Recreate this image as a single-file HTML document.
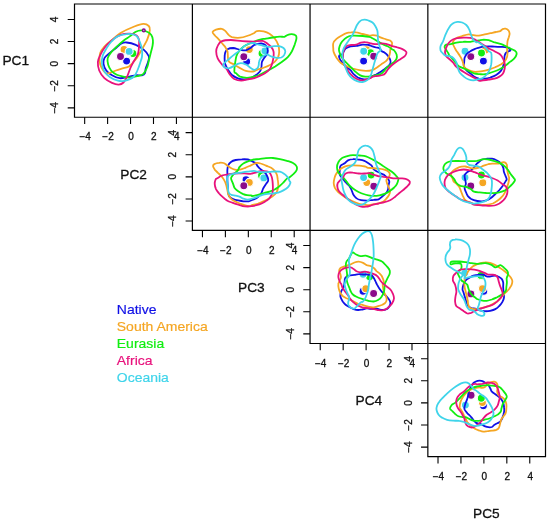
<!DOCTYPE html>
<html lang="en"><head><meta charset="utf-8"><title>PCA niche overlap</title>
<style>
html,body{margin:0;padding:0;background:#fff}
svg{display:block;font-family:"Liberation Sans",Arial,Helvetica,sans-serif}
.f{fill:none;stroke:#000;stroke-width:1.2;stroke-linecap:square}
.t{stroke:#000;stroke-width:1.1;fill:none}
.c{fill:none;stroke-width:1.8;stroke-linejoin:round}
.d{stroke:#fff;stroke-width:1.1}
.a{font-size:10px;fill:#111;stroke:#111;stroke-width:.3;text-anchor:middle}
.l{font-size:13.7px;fill:#111;stroke:#111;stroke-width:.3}
.g{font-size:14px;stroke-width:.2}
</style></head><body>
<svg width="550" height="524" viewBox="0 0 550 524">
<rect width="550" height="524" fill="#fff"/>
<g><!-- panel PC1 vs PC2 -->
<circle class="d" cx="126.6" cy="61.1" r="4.0" fill="#1010e6"/>
<circle class="d" cx="124.0" cy="49.4" r="4.0" fill="#f5a623"/>
<circle class="d" cx="132.9" cy="53.5" r="4.0" fill="#10ee10"/>
<circle class="d" cx="120.5" cy="56.5" r="4.0" fill="#8b0a8b"/>
<circle class="d" cx="129.2" cy="51.4" r="4.0" fill="#3fd4ea"/>
<path class="c" stroke="#1010e6" d="M126.6 42.5C129.0 42.7 133.0 43.6 135.8 44.8C138.6 45.9 141.2 47.5 143.4 49.4C145.6 51.3 148.0 54.1 148.8 56.2C149.6 58.4 148.5 60.3 148.0 62.3C147.5 64.3 146.2 66.6 145.7 68.4C145.2 70.2 145.6 71.8 145.0 73.0C144.4 74.2 143.4 74.9 141.9 75.3C140.4 75.7 138.1 75.0 135.8 75.3C133.5 75.5 130.9 76.3 128.2 76.8C125.5 77.3 122.4 78.5 119.7 78.2C117.0 78.0 114.2 76.6 112.0 75.3C109.8 74.0 107.7 72.4 106.3 70.5C104.9 68.6 103.8 66.0 103.5 63.9C103.2 61.8 103.5 59.9 104.4 58.1C105.4 56.4 107.1 55.2 109.2 53.4C111.3 51.6 114.8 48.9 116.8 47.2C118.8 45.5 119.9 44.2 121.5 43.4C123.1 42.6 124.2 42.3 126.6 42.5Z"/>
<path class="c" stroke="#f5a623" d="M143.4 23.9C145.8 23.8 147.7 24.9 148.8 26.0C149.9 27.1 150.1 28.1 149.8 30.3C149.6 32.5 148.6 36.2 147.3 39.4C146.0 42.6 143.8 46.1 141.9 49.4C140.0 52.7 137.9 56.5 135.8 59.3C133.7 62.1 131.2 64.7 129.2 66.2C127.1 67.7 125.7 67.4 123.5 68.1C121.3 68.8 118.5 69.6 115.9 70.5C113.4 71.4 110.0 73.0 108.2 73.4C106.5 73.8 106.5 73.9 105.4 72.9C104.3 72.0 102.5 69.7 101.5 67.7C100.5 65.7 99.8 63.4 99.6 61.0C99.4 58.6 99.3 55.8 100.1 53.4C100.9 51.0 102.4 48.9 104.4 46.7C106.4 44.5 109.3 42.3 112.0 40.0C114.7 37.7 116.8 35.2 120.5 33.0C124.2 30.8 130.5 28.0 134.3 26.5C138.1 25.0 141.0 24.0 143.4 23.9Z"/>
<path class="c" stroke="#10ee10" d="M141.2 30.4C143.1 30.4 145.4 31.0 147.1 31.8C148.8 32.6 150.3 33.6 151.3 35.0C152.3 36.4 152.7 38.2 152.9 40.0C153.1 41.8 153.0 43.0 152.6 45.5C152.2 48.0 150.9 52.2 150.3 54.7C149.7 57.2 149.3 58.8 148.8 60.8C148.3 62.8 148.2 64.7 147.3 66.9C146.4 69.1 145.1 72.3 143.4 73.8C141.7 75.3 139.6 75.5 137.3 76.1C135.0 76.7 132.0 77.5 129.7 77.6C127.4 77.7 125.7 77.2 123.5 76.7C121.3 76.2 118.9 75.8 116.8 74.8C114.7 73.8 112.5 72.2 111.1 70.5C109.7 68.8 108.8 66.9 108.2 64.8C107.6 62.7 107.2 60.2 107.7 58.1C108.2 56.0 109.6 54.3 111.1 52.4C112.6 50.5 114.6 48.8 116.8 46.7C119.0 44.6 122.2 41.7 124.4 40.0C126.6 38.3 127.8 37.8 129.7 36.4C131.6 35.0 133.9 32.8 135.8 31.8C137.7 30.8 139.3 30.4 141.2 30.4Z"/>
<path class="c" stroke="#e8127c" d="M112.9 39.4C115.4 37.4 117.7 35.8 120.5 34.8C123.3 33.8 127.0 33.5 129.7 33.6C132.4 33.7 135.1 34.6 136.6 35.6C138.1 36.6 138.5 38.0 138.9 39.4C139.3 40.8 139.2 41.9 139.1 44.2C139.0 46.6 139.0 50.6 138.1 53.5C137.2 56.4 134.8 59.4 133.5 61.8C132.2 64.2 131.4 65.6 130.4 68.0C129.4 70.4 128.4 73.8 127.3 76.2C126.1 78.6 124.9 81.1 123.5 82.5C122.1 83.9 120.6 84.5 118.7 84.6C116.8 84.7 114.4 84.0 112.0 82.9C109.6 81.8 106.5 80.3 104.4 78.2C102.3 76.1 100.3 73.2 99.2 70.5C98.1 67.8 97.7 64.6 97.9 61.9C98.1 59.2 99.3 56.9 100.6 54.3C101.9 51.7 103.5 49.0 105.5 46.5C107.5 44.0 110.4 41.4 112.9 39.4Z"/>
<path class="c" stroke="#3fd4ea" d="M117.5 36.4C120.0 35.2 123.9 34.4 126.6 34.1C129.3 33.8 131.7 34.0 133.5 34.5C135.3 35.0 136.2 35.5 137.3 36.8C138.4 38.1 139.2 40.1 140.0 42.2C140.8 44.3 141.7 47.0 142.0 49.4C142.3 51.8 142.3 54.4 142.0 56.6C141.7 58.8 140.9 60.6 140.2 62.8C139.5 65.0 138.7 67.6 137.6 70.0C136.5 72.4 135.7 75.2 133.5 77.0C131.3 78.8 127.0 80.2 124.4 80.8C121.8 81.4 120.2 81.2 117.8 80.6C115.4 80.0 112.3 78.7 110.1 77.2C107.9 75.7 105.8 73.7 104.4 71.5C103.1 69.3 102.3 66.5 102.0 63.9C101.7 61.4 101.8 58.8 102.5 56.2C103.2 53.7 104.8 51.1 106.3 48.6C107.8 46.1 109.6 43.5 111.5 41.5C113.4 39.5 115.0 37.6 117.5 36.4Z"/>
<circle cx="143.8" cy="30.4" r="1.3" fill="#d9d9d9" stroke="#8b0a8b" stroke-width="1.5"/>
</g>
<g><!-- panel PC1 vs PC3 -->
<circle class="d" cx="246.7" cy="61.6" r="4.0" fill="#1010e6"/>
<circle class="d" cx="249.3" cy="49.6" r="4.0" fill="#f5a623"/>
<circle class="d" cx="262.0" cy="53.5" r="4.0" fill="#10ee10"/>
<circle class="d" cx="243.8" cy="56.7" r="4.0" fill="#8b0a8b"/>
<circle class="d" cx="264.9" cy="50.9" r="4.0" fill="#3fd4ea"/>
<path class="c" stroke="#1010e6" d="M225.2 52.6C225.7 51.1 226.1 50.0 227.5 49.2C228.8 48.4 231.1 48.0 233.2 48.0C235.3 48.1 238.0 49.4 240.1 49.8C242.2 50.1 244.1 50.6 245.8 50.3C247.5 50.0 249.0 48.9 250.4 48.0C251.7 47.2 252.7 45.9 253.8 45.2C254.9 44.5 255.6 44.3 256.9 44.0C258.1 43.8 260.0 43.3 261.5 43.5C262.9 43.7 264.4 44.2 265.5 45.2C266.5 46.1 267.5 47.8 267.7 49.2C268.0 50.6 267.7 52.3 267.2 53.8C266.6 55.2 265.2 56.4 264.3 57.8C263.5 59.1 262.5 60.4 262.0 61.8C261.5 63.2 261.7 64.8 261.5 66.4C261.2 67.9 261.1 69.6 260.3 70.9C259.5 72.3 258.3 73.2 256.9 74.4C255.4 75.5 253.5 77.0 251.5 77.8C249.5 78.7 246.9 79.4 244.6 79.5C242.4 79.6 239.9 79.2 237.8 78.4C235.7 77.6 233.7 76.4 232.0 75.0C230.4 73.5 229.2 71.6 228.0 69.8C226.9 68.0 225.7 66.0 225.2 64.1C224.6 62.2 224.6 60.3 224.6 58.4C224.6 56.4 224.7 54.2 225.2 52.6Z"/>
<path class="c" stroke="#f5a623" d="M212.6 32.0C212.8 31.1 214.5 30.3 216.0 29.7C217.5 29.2 220.2 28.6 221.7 28.8C223.3 29.0 224.0 29.9 225.2 30.9C226.3 31.9 227.5 33.8 228.6 34.9C229.8 35.9 230.1 36.7 232.0 37.2C234.0 37.6 237.6 37.9 240.1 37.7C242.5 37.5 244.6 36.8 246.9 36.0C249.2 35.3 252.1 34.0 253.8 33.2C255.5 32.3 255.2 31.4 256.9 31.1C258.5 30.8 261.6 31.0 263.7 31.4C265.8 31.9 267.7 32.6 269.5 33.7C271.3 34.9 273.2 36.5 274.6 38.3C276.0 40.1 277.3 42.4 278.1 44.6C278.8 46.8 279.2 49.4 279.2 51.5C279.2 53.6 278.8 55.5 278.1 57.2C277.3 58.9 276.0 60.5 274.6 61.8C273.2 63.1 271.5 64.2 269.5 65.2C267.5 66.3 264.7 67.3 262.6 68.1C260.5 68.8 258.5 69.2 256.9 69.8C255.2 70.4 254.5 71.3 252.7 71.5C250.8 71.7 247.9 71.5 245.8 70.9C243.7 70.4 242.0 69.1 240.1 68.1C238.2 67.0 236.1 65.7 234.3 64.6C232.5 63.6 230.2 62.8 229.2 61.8C228.1 60.7 228.3 60.1 228.0 58.4C227.8 56.6 227.9 53.4 227.5 51.5C227.0 49.6 226.2 48.4 225.2 46.9C224.1 45.4 222.3 43.7 221.2 42.3C220.0 41.0 219.4 40.0 218.3 38.9C217.3 37.7 215.8 36.6 214.9 35.5C213.9 34.3 212.4 33.0 212.6 32.0Z"/>
<path class="c" stroke="#10ee10" d="M234.4 71.8C234.2 70.1 234.7 65.8 235.1 63.1C235.5 60.4 235.8 57.9 236.5 55.8C237.3 53.8 238.2 52.3 239.5 50.7C240.7 49.2 242.1 47.6 243.8 46.4C245.5 45.2 247.8 44.3 249.6 43.5C251.5 42.6 252.7 42.0 254.7 41.3C256.8 40.5 260.3 39.5 262.0 39.1C263.7 38.7 263.1 39.1 264.9 38.9C266.7 38.6 270.4 37.9 272.9 37.5C275.4 37.1 277.9 36.7 279.8 36.6C281.7 36.5 283.0 37.1 284.4 36.8C285.7 36.5 286.5 35.3 287.8 34.9C289.0 34.4 290.5 34.0 291.8 34.1C293.1 34.2 295.0 34.6 295.8 35.5C296.6 36.3 296.6 37.4 296.4 38.9C296.2 40.4 295.4 42.5 294.7 44.6C293.9 46.7 292.9 49.4 291.8 51.5C290.6 53.6 289.4 55.5 287.8 57.2C286.2 58.9 284.2 60.3 282.1 61.8C280.0 63.3 277.7 64.8 275.2 66.4C272.7 67.9 269.8 69.5 267.2 70.9C264.5 72.4 261.5 74.0 259.2 75.0C256.9 75.9 255.5 76.2 253.4 76.7C251.4 77.1 249.2 77.8 246.9 77.8C244.7 77.8 241.9 77.4 240.1 76.7C238.2 75.9 237.0 74.0 236.1 73.2C235.1 72.4 234.5 73.5 234.4 71.8Z"/>
<path class="c" stroke="#e8127c" d="M221.7 41.2C223.9 40.2 227.5 40.0 230.9 40.0C234.3 40.0 238.5 40.9 242.4 41.2C246.2 41.5 251.4 41.7 253.8 41.7C256.2 41.7 255.4 41.3 256.9 41.2C258.3 41.0 260.9 40.6 262.6 40.9C264.3 41.3 265.7 42.5 267.2 43.5C268.6 44.5 270.1 45.6 271.2 46.9C272.2 48.2 273.1 49.8 273.5 51.5C273.9 53.2 273.7 55.3 273.5 57.2C273.3 59.1 272.9 61.0 272.3 62.9C271.8 64.8 271.3 66.9 270.0 68.7C268.8 70.4 266.7 72.0 264.9 73.2C263.1 74.5 261.1 75.2 259.2 76.1C257.3 77.0 255.1 77.9 253.4 78.4C251.8 78.9 251.3 78.6 249.2 79.0C247.2 79.3 243.7 80.7 241.2 80.7C238.7 80.7 236.2 80.0 234.3 79.0C232.4 77.9 231.1 76.1 229.8 74.4C228.4 72.7 227.7 70.4 226.3 68.7C225.0 66.9 223.2 65.8 221.7 64.1C220.3 62.4 218.6 60.5 217.7 58.4C216.8 56.3 216.2 53.6 216.2 51.5C216.2 49.4 216.8 47.5 217.7 45.8C218.6 44.0 219.5 42.1 221.7 41.2Z"/>
<path class="c" stroke="#3fd4ea" d="M223.1 65.3C223.0 64.5 223.2 64.2 224.2 63.1C225.2 62.0 227.7 60.1 229.3 58.7C230.8 57.4 231.9 56.4 233.6 55.1C235.3 53.8 237.8 52.2 239.5 50.7C241.2 49.3 242.1 47.6 243.8 46.4C245.5 45.2 247.8 44.0 249.6 43.5C251.5 42.9 253.7 43.0 254.7 43.1C255.8 43.2 254.5 43.6 255.8 44.0C257.1 44.4 260.3 45.0 262.4 45.5C264.4 45.9 266.2 46.8 268.2 46.9C270.1 47.0 272.2 46.3 274.0 46.2C275.8 46.1 277.5 45.9 279.1 46.2C280.7 46.5 282.4 47.2 283.5 48.0C284.5 48.8 285.2 50.1 285.3 51.3C285.4 52.4 284.8 53.9 284.2 54.9C283.5 55.9 282.5 57.0 281.3 57.5C280.1 57.9 278.5 57.9 276.9 57.8C275.3 57.7 273.4 57.3 271.8 56.7C270.2 56.2 268.7 54.8 267.5 54.5C266.2 54.3 265.6 54.7 264.5 55.3C263.5 55.8 261.8 56.8 260.9 57.8C260.0 58.8 259.5 60.2 259.1 61.5C258.7 62.7 259.0 64.0 258.7 65.1C258.5 66.2 258.4 67.2 257.6 68.0C256.9 68.8 255.5 69.8 254.4 69.8C253.3 69.8 252.5 69.1 251.1 68.2C249.7 67.3 247.7 65.4 246.0 64.5C244.3 63.7 242.5 63.1 240.9 63.1C239.3 63.1 238.5 63.7 236.5 64.5C234.6 65.4 231.2 67.7 229.3 68.2C227.3 68.7 225.9 67.9 224.9 67.5C223.9 67.0 223.2 66.0 223.1 65.3Z"/>
</g>
<g><!-- panel PC1 vs PC4 -->
<circle class="d" cx="363.6" cy="61.1" r="4.0" fill="#1010e6"/>
<circle class="d" cx="366.5" cy="49.6" r="4.0" fill="#f5a623"/>
<circle class="d" cx="370.5" cy="52.8" r="4.0" fill="#10ee10"/>
<circle class="d" cx="373.7" cy="56.2" r="4.0" fill="#8b0a8b"/>
<circle class="d" cx="363.7" cy="51.3" r="4.0" fill="#3fd4ea"/>
<path class="c" stroke="#1010e6" d="M342.3 54.0C343.4 52.7 344.2 50.0 345.5 48.7C346.9 47.4 348.7 46.8 350.5 46.3C352.2 45.8 354.1 46.1 356.2 45.9C358.2 45.6 360.7 44.8 362.7 44.6C364.8 44.5 366.9 44.8 368.5 45.0C370.0 45.3 370.8 45.9 372.1 46.3C373.4 46.7 375.0 47.2 376.2 47.5C377.4 47.8 378.5 47.7 379.5 48.3C380.4 48.9 381.1 50.5 381.9 51.2C382.7 51.9 383.4 51.8 384.4 52.5C385.3 53.2 386.7 54.2 387.6 55.4C388.6 56.5 389.6 58.2 390.1 59.5C390.6 60.8 390.8 62.0 390.5 63.1C390.2 64.2 389.5 65.0 388.5 66.0C387.4 67.0 385.7 68.2 384.4 69.3C383.0 70.3 381.6 71.2 380.3 72.1C378.9 73.0 377.5 73.9 376.2 74.6C374.8 75.3 373.5 75.5 372.1 76.2C370.7 77.0 369.2 78.6 367.6 79.1C366.1 79.6 364.4 79.4 362.7 79.1C361.1 78.8 359.3 78.3 357.8 77.5C356.3 76.6 355.0 75.4 353.7 74.2C352.5 73.0 351.7 71.3 350.5 70.1C349.2 68.9 347.7 68.0 346.4 66.8C345.0 65.6 343.5 64.5 342.3 62.7C341.0 61.0 339.0 57.6 339.0 56.2C339.0 54.7 341.2 55.2 342.3 54.0Z"/>
<path class="c" stroke="#f5a623" d="M333.3 43.0C333.8 41.4 335.2 40.1 336.5 38.9C337.9 37.7 339.8 36.6 341.5 35.6C343.1 34.7 344.7 33.7 346.4 33.2C348.0 32.6 349.6 32.5 351.3 32.4C352.9 32.2 354.3 32.1 356.2 32.4C358.1 32.6 360.5 33.5 362.7 34.0C364.9 34.5 367.6 35.4 369.3 35.6C371.0 35.8 371.6 35.2 372.9 35.2C374.2 35.2 375.6 35.2 377.0 35.6C378.4 36.0 379.6 37.1 381.1 37.7C382.6 38.3 384.5 38.8 386.0 39.3C387.5 39.8 389.1 39.9 390.1 40.5C391.1 41.2 391.9 41.9 392.1 43.0C392.3 44.1 391.7 45.9 391.3 47.1C391.0 48.3 390.3 49.5 390.1 50.4C389.9 51.2 390.3 51.0 390.1 52.1C389.9 53.2 389.5 55.5 388.9 57.0C388.2 58.5 387.3 59.9 386.0 61.1C384.7 62.3 382.7 63.2 381.1 64.4C379.5 65.5 377.7 67.1 376.2 68.0C374.7 69.0 373.8 69.6 372.1 70.1C370.4 70.6 368.1 70.9 366.0 70.9C363.9 70.9 361.6 70.5 359.5 70.1C357.3 69.7 355.1 69.1 352.9 68.5C350.7 67.8 348.4 67.0 346.4 66.0C344.3 65.0 342.3 64.1 340.6 62.7C339.0 61.4 337.7 59.6 336.5 57.8C335.4 56.0 334.2 53.6 333.7 52.1C333.1 50.6 333.3 50.2 333.3 48.7C333.2 47.2 332.7 44.6 333.3 43.0Z"/>
<path class="c" stroke="#10ee10" d="M339.0 48.7C339.2 47.3 339.7 45.5 340.6 43.8C341.6 42.2 343.2 40.2 344.7 38.9C346.2 37.6 348.0 36.6 349.6 36.0C351.3 35.5 352.4 35.6 354.5 35.6C356.7 35.6 360.3 35.8 362.7 36.0C365.2 36.2 367.6 36.5 369.3 36.9C371.0 37.3 371.5 37.8 372.9 38.5C374.3 39.2 376.2 40.4 377.8 41.4C379.5 42.3 381.1 43.4 382.7 44.2C384.4 45.0 386.0 45.4 387.6 46.3C389.3 47.2 391.5 48.8 392.5 49.5C393.6 50.2 393.5 49.6 394.2 50.5C394.9 51.3 396.2 53.2 396.6 54.5C397.0 55.9 397.0 57.4 396.6 58.6C396.2 59.9 395.1 61.0 394.2 61.9C393.2 62.9 392.1 63.4 390.9 64.4C389.7 65.3 388.0 66.4 386.8 67.6C385.6 68.9 384.6 70.6 383.5 71.7C382.5 72.8 381.6 73.6 380.3 74.2C378.9 74.8 376.9 75.1 375.4 75.4C373.9 75.8 373.0 76.0 371.3 76.2C369.6 76.4 367.0 76.8 365.2 76.6C363.3 76.5 361.9 76.2 360.3 75.4C358.6 74.6 357.0 73.2 355.4 71.7C353.7 70.3 352.1 68.5 350.5 66.8C348.8 65.2 347.0 63.5 345.5 61.9C344.0 60.3 342.5 58.6 341.5 57.0C340.4 55.4 339.8 53.5 339.4 52.1C339.0 50.7 338.8 50.1 339.0 48.7Z"/>
<path class="c" stroke="#e8127c" d="M343.5 51.2C344.0 49.5 345.1 47.3 346.4 46.3C347.7 45.2 349.6 45.3 351.3 45.0C352.9 44.8 354.5 45.0 356.2 44.6C357.8 44.2 359.6 43.0 361.1 42.6C362.6 42.2 363.5 42.0 365.2 42.2C366.8 42.3 369.6 43.1 370.9 43.4C372.2 43.7 371.9 43.7 372.9 43.8C373.9 44.0 375.6 44.3 377.0 44.2C378.4 44.2 379.6 43.5 381.1 43.4C382.6 43.3 384.2 43.4 386.0 43.8C387.8 44.2 389.8 45.2 391.7 45.9C393.6 46.5 395.7 47.0 397.5 47.5C399.2 48.0 401.0 48.5 402.4 49.1C403.7 49.8 405.0 50.6 405.6 51.2C406.3 51.8 406.6 52.1 406.5 52.9C406.3 53.7 405.9 55.1 404.8 56.2C403.7 57.3 401.5 58.4 399.9 59.5C398.3 60.5 396.5 61.6 395.0 62.7C393.5 63.8 392.1 64.8 390.9 66.0C389.7 67.2 388.6 68.5 387.6 69.7C386.7 70.9 386.0 72.5 385.2 73.4C384.4 74.3 384.0 74.6 382.7 75.0C381.5 75.4 379.5 75.5 377.8 75.8C376.2 76.1 374.1 76.3 372.9 76.6C371.8 77.0 372.1 77.4 370.9 77.9C369.8 78.3 367.6 79.1 366.0 79.5C364.4 79.9 362.9 80.5 361.1 80.3C359.3 80.1 357.1 79.3 355.4 78.3C353.6 77.3 352.0 75.8 350.5 74.2C349.0 72.5 347.5 70.5 346.4 68.5C345.2 66.4 344.0 64.0 343.5 61.9C343.0 59.9 343.1 58.0 343.1 56.2C343.1 54.4 343.0 52.8 343.5 51.2Z"/>
<path class="c" stroke="#3fd4ea" d="M343.9 47.9C344.9 45.7 346.6 43.4 348.0 41.4C349.4 39.3 351.0 37.4 352.1 35.6C353.2 33.9 353.7 32.5 354.5 30.7C355.4 29.0 356.0 26.6 357.0 25.0C358.0 23.4 359.0 21.8 360.3 20.9C361.5 20.0 363.0 19.8 364.4 19.7C365.7 19.6 367.1 20.0 368.5 20.5C369.8 21.0 371.4 21.6 372.5 22.5C373.7 23.5 374.6 24.9 375.4 26.2C376.2 27.6 377.0 29.0 377.4 30.7C377.8 32.4 377.7 34.5 377.8 36.5C378.0 38.4 377.9 40.4 378.2 42.2C378.6 44.0 379.5 45.7 379.9 47.1C380.3 48.5 381.0 49.4 380.7 50.4C380.3 51.3 378.7 51.4 377.8 52.9C376.9 54.4 376.1 57.1 375.4 59.5C374.6 61.8 373.9 64.6 373.3 66.8C372.7 69.0 372.1 71.2 371.7 72.5C371.3 73.9 371.6 73.8 370.9 75.0C370.2 76.2 369.0 78.8 367.6 79.9C366.3 81.1 364.5 81.8 362.7 82.0C361.0 82.2 358.8 81.8 357.0 81.1C355.2 80.5 353.6 79.6 352.1 78.3C350.6 77.0 349.1 75.1 348.0 73.4C346.9 71.6 346.3 69.7 345.5 67.6C344.8 65.6 344.0 63.3 343.5 61.1C343.0 58.9 342.2 56.7 342.3 54.5C342.3 52.3 343.0 50.1 343.9 47.9Z"/>
</g>
<g><!-- panel PC1 vs PC5 -->
<circle class="d" cx="483.4" cy="61.1" r="4.0" fill="#1010e6"/>
<circle class="d" cx="485.5" cy="50.0" r="4.0" fill="#f5a623"/>
<circle class="d" cx="481.5" cy="53.0" r="4.0" fill="#10ee10"/>
<circle class="d" cx="470.8" cy="56.6" r="4.0" fill="#8b0a8b"/>
<circle class="d" cx="465.0" cy="51.2" r="4.0" fill="#3fd4ea"/>
<path class="c" stroke="#1010e6" d="M470.4 51.2C471.6 50.4 473.2 49.7 474.5 49.1C475.7 48.6 476.7 48.3 478.1 47.9C479.5 47.5 481.2 47.0 483.0 46.7C484.8 46.4 486.8 46.3 488.7 46.3C490.6 46.3 492.5 46.6 494.5 46.7C496.4 46.8 498.4 46.9 500.2 46.9C502.0 47.0 503.7 46.9 505.1 47.1C506.5 47.3 507.5 47.9 508.4 48.3C509.2 48.7 510.1 49.1 510.4 49.5C510.7 50.0 510.4 50.4 510.0 50.8C509.6 51.1 508.6 51.2 508.0 51.6C507.3 51.9 506.5 52.2 505.9 52.8C505.4 53.4 505.0 54.3 504.7 55.4C504.4 56.5 504.4 58.1 504.3 59.5C504.1 60.8 504.1 62.2 503.9 63.5C503.6 64.9 503.2 66.3 502.6 67.6C502.0 69.0 501.3 70.5 500.2 71.7C499.1 73.0 497.7 74.0 496.1 75.0C494.5 76.0 492.3 76.8 490.4 77.5C488.5 78.1 486.5 78.5 484.6 78.7C482.7 78.9 480.7 79.0 478.9 78.7C477.1 78.3 475.4 77.5 474.0 76.6C472.6 75.8 471.7 74.5 470.4 73.4C469.1 72.3 467.4 71.3 466.3 70.1C465.2 68.9 464.2 67.4 463.8 66.0C463.5 64.6 464.1 63.3 464.2 61.9C464.4 60.5 464.2 59.2 464.6 57.8C465.1 56.5 466.1 54.8 467.1 53.7C468.0 52.6 469.1 51.9 470.4 51.2Z"/>
<path class="c" stroke="#f5a623" d="M455.6 49.5C455.0 48.4 454.1 46.7 453.6 45.5C453.1 44.2 452.3 43.4 452.8 42.2C453.2 41.0 454.9 39.1 456.5 38.1C458.0 37.1 460.1 36.7 462.2 36.0C464.2 35.4 466.8 34.5 468.7 34.4C470.6 34.3 471.9 35.0 473.6 35.2C475.3 35.4 477.1 35.8 478.9 35.6C480.7 35.5 482.7 34.8 484.6 34.4C486.5 34.0 488.5 33.6 490.4 33.2C492.3 32.8 494.5 32.3 496.1 32.0C497.7 31.6 499.1 31.6 500.2 31.1C501.3 30.7 501.8 29.5 502.6 29.1C503.5 28.7 504.5 28.5 505.5 28.7C506.5 28.9 507.7 29.5 508.4 30.3C509.0 31.1 509.5 32.4 509.6 33.6C509.7 34.8 509.1 36.0 508.8 37.3C508.4 38.6 507.8 39.9 507.5 41.4C507.3 42.9 507.2 44.8 507.1 46.3C507.1 47.8 507.1 49.3 507.1 50.4C507.2 51.5 507.6 51.7 507.5 52.9C507.5 54.2 507.3 56.3 506.7 57.8C506.2 59.3 505.4 60.8 504.3 61.9C503.2 63.1 501.7 63.9 500.2 64.8C498.7 65.7 497.0 66.5 495.3 67.2C493.5 68.0 491.5 68.7 489.5 69.3C487.6 69.9 485.7 70.5 483.8 70.9C481.9 71.3 479.8 71.6 478.1 71.7C476.4 71.9 475.2 72.0 473.6 71.7C472.1 71.5 470.2 70.8 468.7 70.1C467.2 69.4 465.5 68.6 464.6 67.6C463.8 66.7 463.8 65.6 463.4 64.4C463.0 63.1 462.7 61.6 462.2 60.3C461.6 58.9 461.0 57.5 460.1 56.2C459.3 54.8 458.0 53.2 457.3 52.1C456.5 51.0 456.2 50.7 455.6 49.5Z"/>
<path class="c" stroke="#10ee10" d="M444.6 47.1C444.5 46.1 445.2 45.1 446.2 44.6C447.2 44.2 449.0 44.6 450.7 44.2C452.4 43.9 454.4 43.0 456.5 42.6C458.5 42.2 460.7 41.9 463.0 41.8C465.3 41.6 468.2 41.9 470.4 41.8C472.5 41.6 474.7 41.2 476.1 41.0C477.5 40.8 477.6 40.8 478.9 40.5C480.2 40.3 482.2 39.8 483.8 39.7C485.5 39.7 487.1 39.7 488.7 40.1C490.4 40.5 492.0 41.6 493.6 42.2C495.3 42.7 497.0 43.0 498.5 43.4C500.0 43.8 501.3 44.1 502.6 44.6C504.0 45.2 505.4 46.0 506.7 46.7C508.1 47.4 509.3 48.0 510.8 48.7C512.3 49.5 514.8 50.3 515.7 51.3C516.7 52.2 516.8 53.3 516.5 54.5C516.3 55.8 515.2 57.4 514.1 58.6C513.0 59.9 511.4 60.8 510.0 61.9C508.6 63.0 507.3 64.2 505.9 65.2C504.5 66.2 503.3 67.2 501.8 68.0C500.3 68.9 498.7 69.8 496.9 70.5C495.1 71.2 493.1 71.9 491.2 72.5C489.3 73.2 487.4 73.9 485.5 74.2C483.5 74.5 481.6 74.3 479.7 74.2C477.8 74.0 475.8 73.9 474.0 73.4C472.2 72.8 470.4 71.7 468.7 70.9C467.0 70.1 465.5 69.2 463.8 68.5C462.2 67.7 460.3 67.1 458.9 66.2C457.5 65.2 456.7 64.0 455.6 62.7C454.5 61.5 453.4 59.8 452.4 58.6C451.3 57.5 450.2 56.7 449.5 55.8C448.8 54.9 448.8 54.2 448.3 53.3C447.8 52.4 447.2 51.5 446.6 50.5C446.0 49.4 444.7 48.1 444.6 47.1Z"/>
<path class="c" stroke="#e8127c" d="M445.8 48.7C446.4 47.2 447.6 44.5 448.7 43.0C449.8 41.5 450.9 40.5 452.4 39.7C453.8 38.9 455.4 38.4 457.3 38.1C459.2 37.8 461.6 37.7 463.8 37.7C466.0 37.7 468.5 37.6 470.4 37.9C472.3 38.3 474.1 39.2 475.3 39.7C476.4 40.2 476.3 40.3 477.3 41.0C478.3 41.6 480.0 42.9 481.4 43.8C482.7 44.7 484.1 45.5 485.5 46.3C486.8 47.1 488.0 47.9 489.5 48.7C491.0 49.5 492.7 50.2 494.5 51.2C496.2 52.2 498.8 53.3 500.2 54.5C501.6 55.8 502.3 57.1 503.0 58.6C503.8 60.1 504.4 61.9 504.7 63.5C505.0 65.2 505.0 66.8 504.7 68.5C504.4 70.1 503.9 72.0 503.0 73.4C502.2 74.7 500.8 75.8 499.4 76.6C497.9 77.5 496.2 78.2 494.5 78.7C492.7 79.2 490.6 79.2 488.7 79.5C486.8 79.8 484.6 80.1 483.0 80.3C481.4 80.5 480.2 81.1 478.9 80.7C477.6 80.4 476.7 79.1 475.3 78.3C473.8 77.5 472.1 76.8 470.4 75.8C468.6 74.9 466.4 73.6 464.6 72.5C462.9 71.5 461.2 70.4 459.7 69.3C458.2 68.2 456.7 67.1 455.6 66.0C454.5 64.9 454.1 63.8 453.2 62.7C452.2 61.6 451.1 60.5 449.9 59.5C448.8 58.4 447.0 57.4 446.2 56.2C445.4 55.0 445.1 53.3 445.0 52.1C444.9 50.8 445.2 50.2 445.8 48.7Z"/>
<path class="c" stroke="#3fd4ea" d="M440.5 50.4C440.3 49.4 440.1 47.8 440.5 46.3C440.9 44.8 442.1 43.3 443.0 41.4C443.8 39.5 444.5 37.0 445.4 34.8C446.4 32.6 447.5 30.1 448.7 28.3C449.8 26.4 450.9 24.8 452.4 23.8C453.8 22.7 455.6 22.1 457.3 21.9C458.9 21.7 460.7 22.0 462.2 22.5C463.7 23.1 465.1 23.9 466.3 25.0C467.4 26.1 468.4 27.6 469.1 29.1C469.9 30.6 470.2 32.4 470.8 34.0C471.4 35.6 471.9 37.5 472.8 38.9C473.7 40.3 475.2 41.6 476.1 42.2C477.0 42.7 476.9 41.6 478.1 42.2C479.2 42.7 481.6 44.4 483.0 45.5C484.4 46.5 485.3 47.4 486.3 48.3C487.2 49.3 487.9 50.4 488.7 51.2C489.5 51.9 490.7 51.7 491.2 52.9C491.7 54.2 491.6 56.7 491.6 58.6C491.6 60.5 491.5 62.5 491.2 64.4C490.8 66.3 490.4 68.3 489.5 70.1C488.7 71.9 487.5 73.6 486.3 75.0C485.0 76.4 483.5 77.6 482.2 78.3C480.9 79.0 480.0 78.8 478.5 79.1C477.1 79.4 475.3 80.2 473.6 80.3C472.0 80.4 470.4 80.1 468.7 79.5C467.1 78.9 465.3 77.8 463.8 76.6C462.3 75.5 460.8 74.0 459.7 72.5C458.7 71.0 458.2 69.3 457.7 67.6C457.1 66.0 457.1 64.2 456.5 62.7C455.8 61.2 455.1 59.7 454.0 58.6C452.9 57.5 451.4 56.7 449.9 56.2C448.4 55.6 446.4 56.0 445.0 55.4C443.6 54.7 442.5 52.9 441.7 52.1C441.0 51.3 440.7 51.3 440.5 50.4Z"/>
</g>
<g><!-- panel PC2 vs PC3 -->
<circle class="d" cx="246.0" cy="179.8" r="4.0" fill="#1010e6"/>
<circle class="d" cx="249.3" cy="182.4" r="4.0" fill="#f5a623"/>
<circle class="d" cx="261.5" cy="175.5" r="4.0" fill="#10ee10"/>
<circle class="d" cx="243.8" cy="185.8" r="4.0" fill="#8b0a8b"/>
<circle class="d" cx="263.8" cy="177.9" r="4.0" fill="#3fd4ea"/>
<path class="c" stroke="#1010e6" d="M227.4 169.6C227.5 168.0 227.6 166.5 228.3 165.2C228.9 163.9 230.1 162.6 231.3 161.7C232.5 160.8 233.9 160.4 235.7 160.0C237.4 159.6 239.7 159.3 241.8 159.3C243.8 159.2 246.2 159.2 247.9 159.5C249.6 159.9 250.7 160.7 252.0 161.3C253.3 161.9 254.6 162.3 255.5 163.0C256.4 163.7 256.5 164.7 257.2 165.6C258.0 166.6 258.8 167.7 259.9 168.7C260.9 169.6 262.3 170.4 263.3 171.3C264.4 172.2 265.2 172.9 266.0 173.9C266.7 174.9 267.3 176.3 267.7 177.4C268.1 178.6 268.4 179.8 268.1 180.9C267.9 182.0 266.8 182.6 266.0 183.9C265.2 185.1 264.1 186.8 263.3 188.2C262.6 189.7 262.3 191.3 261.6 192.6C260.9 193.9 260.0 195.1 259.0 196.1C258.0 197.1 256.7 198.0 255.5 198.7C254.3 199.3 253.1 199.6 252.0 200.0C250.9 200.4 250.2 201.1 248.8 201.3C247.4 201.5 245.3 201.5 243.5 201.3C241.8 201.2 240.0 200.8 238.3 200.4C236.5 200.1 234.5 199.7 233.1 199.1C231.6 198.5 230.4 197.9 229.6 196.9C228.8 196.0 228.5 195.2 228.3 193.5C228.0 191.7 228.0 188.5 227.8 186.5C227.7 184.4 227.5 183.2 227.4 181.2C227.3 179.3 227.4 176.7 227.4 174.8C227.4 172.9 227.2 171.2 227.4 169.6Z"/>
<path class="c" stroke="#f5a623" d="M213.0 166.1C213.0 165.1 213.7 164.4 214.7 163.9C215.7 163.3 217.6 162.9 219.1 162.8C220.5 162.6 222.1 162.6 223.5 163.0C224.8 163.4 225.8 164.4 226.9 165.2C228.1 166.0 229.1 167.1 230.4 167.8C231.7 168.5 233.2 169.3 234.8 169.6C236.4 169.9 238.3 169.9 240.0 169.6C241.8 169.3 243.5 168.5 245.3 167.8C247.0 167.2 248.7 166.4 250.5 165.6C252.4 164.8 254.7 163.4 256.4 163.0C258.1 162.7 259.1 163.0 260.7 163.5C262.3 163.9 264.2 164.9 266.0 165.6C267.7 166.4 269.7 166.9 271.2 167.8C272.7 168.7 273.7 169.7 274.7 170.9C275.6 172.0 276.4 173.4 276.9 174.8C277.4 176.2 277.5 177.7 277.7 179.2C278.0 180.6 278.1 182.2 278.2 183.5C278.3 184.9 278.5 185.8 278.2 187.3C277.9 188.9 277.3 191.1 276.4 192.6C275.6 194.0 274.3 195.1 272.9 196.1C271.6 197.1 270.2 197.8 268.6 198.7C267.0 199.6 265.1 200.5 263.3 201.3C261.6 202.1 260.0 202.8 258.1 203.5C256.2 204.1 253.4 204.8 252.0 205.2C250.6 205.7 250.9 206.1 249.6 206.1C248.4 206.1 246.0 205.7 244.4 205.2C242.8 204.8 241.6 204.1 240.0 203.5C238.4 202.8 236.3 202.1 234.8 201.3C233.3 200.5 232.0 199.9 230.9 198.7C229.8 197.5 228.8 195.8 228.3 194.3C227.7 192.9 227.7 191.6 227.4 190.0C227.0 188.4 226.6 186.3 226.1 184.7C225.6 183.1 225.1 181.7 224.3 180.4C223.6 179.0 222.7 177.8 221.7 176.5C220.7 175.3 219.4 174.2 218.2 173.1C217.1 171.9 215.6 170.7 214.7 169.6C213.9 168.4 213.0 167.0 213.0 166.1Z"/>
<path class="c" stroke="#10ee10" d="M231.3 177.4C231.7 176.5 232.9 175.0 233.9 173.9C234.9 172.8 236.5 172.0 237.4 170.9C238.4 169.7 238.7 168.1 239.6 166.9C240.5 165.8 241.3 164.8 242.7 163.9C244.0 162.9 246.0 162.0 247.9 161.3C249.8 160.5 252.2 159.9 254.0 159.5C255.8 159.2 257.0 159.3 259.0 159.1C261.0 158.9 263.6 158.4 266.0 158.2C268.3 158.0 270.6 157.9 272.9 158.0C275.3 158.2 277.6 158.6 279.9 159.1C282.3 159.6 284.7 160.2 286.9 160.8C289.1 161.5 291.4 162.1 293.0 163.0C294.6 163.9 295.9 164.8 296.5 166.1C297.1 167.3 297.1 169.1 296.5 170.4C295.9 171.8 294.3 173.1 293.0 174.4C291.7 175.6 289.7 177.1 288.7 177.9C287.6 178.6 287.8 177.8 286.9 178.6C286.0 179.4 284.7 181.2 283.4 182.5C282.1 183.9 280.5 185.3 279.1 186.5C277.6 187.6 276.3 188.7 274.7 189.5C273.1 190.4 271.2 191.1 269.5 191.7C267.7 192.3 266.1 192.5 264.2 193.0C262.3 193.5 260.1 194.3 258.1 194.8C256.1 195.3 253.1 196.0 252.0 196.1C250.9 196.2 252.2 195.5 251.4 195.4C250.6 195.2 248.5 195.4 247.0 195.2C245.6 195.0 244.1 194.5 242.7 193.9C241.2 193.2 239.6 192.2 238.3 191.3C237.0 190.3 235.7 189.5 234.8 188.2C233.9 187.0 233.6 185.3 233.1 183.9C232.5 182.4 231.6 180.6 231.3 179.5C231.0 178.4 230.9 178.3 231.3 177.4Z"/>
<path class="c" stroke="#e8127c" d="M217.3 178.3C218.4 177.7 220.0 176.3 221.7 175.7C223.5 175.0 225.6 174.7 227.8 174.4C230.0 174.0 232.3 173.7 234.8 173.5C237.3 173.3 240.2 173.2 242.7 173.2C245.1 173.3 248.1 173.9 249.6 173.9C251.2 174.0 250.7 173.8 252.0 173.5C253.3 173.2 255.6 172.6 257.2 172.2C258.8 171.7 260.1 171.0 261.6 170.9C263.1 170.7 264.7 171.0 266.0 171.3C267.3 171.6 268.5 171.7 269.5 172.6C270.4 173.5 271.1 175.2 271.6 176.5C272.1 177.9 272.3 179.1 272.5 180.9C272.7 182.7 272.9 185.4 272.9 187.3C272.9 189.3 272.9 191.0 272.5 192.6C272.1 194.2 271.3 195.6 270.3 196.9C269.4 198.3 268.3 199.3 266.8 200.4C265.4 201.5 263.3 202.7 261.6 203.5C259.9 204.3 258.0 204.8 256.4 205.2C254.8 205.7 253.4 205.9 252.0 206.1C250.6 206.3 249.4 206.5 247.9 206.5C246.3 206.5 244.4 206.5 242.7 206.1C240.9 205.7 239.2 204.9 237.4 204.4C235.7 203.8 233.9 203.3 232.2 202.6C230.4 202.0 228.5 201.4 226.9 200.4C225.3 199.5 223.9 198.1 222.6 196.9C221.3 195.8 220.2 194.8 219.1 193.5C218.0 192.1 216.8 190.7 216.0 189.1C215.3 187.5 214.8 185.5 214.7 183.9C214.7 182.3 215.2 180.4 215.6 179.5C216.0 178.6 216.3 178.9 217.3 178.3Z"/>
<path class="c" stroke="#3fd4ea" d="M227.4 177.4C227.7 176.3 228.3 175.5 229.6 174.8C230.8 174.1 232.9 173.9 234.8 173.5C236.7 173.1 238.9 172.9 240.9 172.6C242.9 172.3 244.8 172.0 247.0 171.7C249.2 171.5 252.3 170.9 254.0 170.9C255.7 170.9 255.7 171.5 257.2 171.7C258.8 172.0 261.3 172.1 263.3 172.2C265.4 172.2 267.6 172.2 269.5 172.0C271.3 171.9 272.9 171.4 274.7 171.3C276.4 171.3 278.3 171.3 279.9 171.7C281.5 172.2 283.0 173.0 284.3 173.9C285.6 174.9 286.9 176.3 287.8 177.4C288.7 178.6 289.1 180.0 289.5 180.9C290.0 181.8 290.7 181.9 290.4 183.0C290.1 184.1 288.9 186.1 287.8 187.3C286.6 188.6 285.0 189.5 283.4 190.4C281.8 191.3 279.9 192.1 278.2 192.6C276.4 193.1 274.7 193.2 272.9 193.5C271.2 193.7 269.5 193.7 267.7 193.9C266.0 194.1 264.2 194.3 262.5 194.8C260.7 195.3 259.0 196.3 257.2 196.9C255.5 197.6 253.6 198.3 252.0 198.7C250.4 199.1 249.3 199.6 247.9 199.6C246.5 199.6 244.8 199.1 243.5 198.7C242.2 198.3 241.3 197.5 240.0 196.9C238.7 196.4 237.1 196.0 235.7 195.6C234.2 195.3 232.5 195.3 231.3 194.8C230.1 194.3 229.3 194.0 228.7 192.6C228.1 191.2 228.0 188.4 227.8 186.5C227.6 184.6 227.5 182.7 227.4 181.2C227.3 179.7 227.0 178.5 227.4 177.4Z"/>
</g>
<g><!-- panel PC2 vs PC4 -->
<circle class="d" cx="366.8" cy="182.6" r="4.0" fill="#f5a623"/>
<circle class="d" cx="371.1" cy="175.1" r="4.0" fill="#10ee10"/>
<circle class="d" cx="373.8" cy="186.3" r="4.0" fill="#8b0a8b"/>
<circle class="d" cx="363.6" cy="177.6" r="4.0" fill="#3fd4ea"/>
<path class="c" stroke="#1010e6" d="M339.8 169.8C340.0 168.3 339.8 166.8 340.6 165.7C341.5 164.6 343.5 164.2 344.7 163.3C346.0 162.4 346.6 161.1 348.0 160.4C349.4 159.7 351.1 159.3 352.9 159.2C354.7 159.0 356.7 159.3 358.6 159.6C360.5 159.9 362.7 160.2 364.4 160.8C366.0 161.4 367.2 162.5 368.5 163.3C369.7 164.1 370.9 164.8 371.7 165.7C372.5 166.7 372.5 168.0 373.4 169.0C374.2 170.0 375.7 170.7 377.0 171.5C378.3 172.2 379.9 172.9 381.1 173.5C382.3 174.1 383.3 174.4 384.4 175.1C385.4 175.9 386.4 177.0 387.2 178.0C388.0 179.0 389.1 180.1 389.3 181.4C389.5 182.6 388.7 184.1 388.5 185.5C388.2 186.8 388.4 188.3 388.0 189.5C387.7 190.8 387.3 191.7 386.4 192.8C385.5 193.9 384.0 195.0 382.7 196.1C381.4 197.2 380.1 198.8 378.6 199.4C377.1 200.0 375.1 199.6 373.7 199.8C372.4 199.9 371.6 200.0 370.5 200.2C369.3 200.3 368.4 200.6 366.8 200.6C365.3 200.6 362.9 200.6 361.1 200.2C359.3 199.8 357.5 199.1 356.2 198.1C354.9 197.2 354.1 195.8 353.3 194.5C352.6 193.2 352.3 191.7 351.7 190.4C351.1 189.0 350.7 187.6 349.6 186.3C348.6 184.9 346.8 183.5 345.5 182.2C344.3 180.8 343.2 179.3 342.3 178.1C341.3 176.9 340.2 176.2 339.8 174.8C339.4 173.4 339.7 171.3 339.8 169.8Z"/>
<path class="c" stroke="#f5a623" d="M335.7 174.7C336.5 173.4 337.8 171.5 339.0 170.2C340.2 169.0 341.6 168.1 343.1 167.4C344.6 166.6 346.2 166.1 348.0 165.7C349.8 165.4 351.8 165.3 353.7 165.3C355.6 165.3 357.5 165.5 359.5 165.7C361.4 165.9 363.8 166.2 365.2 166.5C366.6 166.9 366.7 167.5 368.0 167.8C369.3 168.0 371.1 168.0 372.9 168.2C374.7 168.3 376.9 168.4 378.6 168.6C380.4 168.8 382.0 169.0 383.5 169.4C385.0 169.8 386.6 170.4 387.6 171.0C388.7 171.7 389.4 172.6 389.7 173.5C390.0 174.4 389.8 175.3 389.3 176.4C388.7 177.4 386.8 178.5 386.4 179.7C386.1 181.0 386.8 182.5 387.2 183.8C387.6 185.1 388.4 186.3 388.9 187.5C389.3 188.7 390.1 189.9 390.1 191.2C390.1 192.5 389.5 194.0 388.9 195.3C388.2 196.5 387.4 197.5 386.4 198.5C385.5 199.6 384.4 201.0 383.1 201.8C381.8 202.6 380.1 202.9 378.6 203.3C377.2 203.7 376.2 203.8 374.5 204.1C372.8 204.4 370.4 205.0 368.5 205.1C366.5 205.2 364.6 205.0 362.7 204.7C360.8 204.3 358.8 203.7 357.0 203.0C355.2 202.4 353.7 201.8 352.1 201.0C350.5 200.2 348.8 199.5 347.2 198.5C345.5 197.6 343.8 196.4 342.3 195.3C340.8 194.2 339.4 193.2 338.2 192.0C337.0 190.8 335.7 189.4 334.9 187.9C334.2 186.4 333.8 184.6 333.7 183.0C333.6 181.4 334.2 179.5 334.5 178.1C334.8 176.7 335.0 176.0 335.7 174.7Z"/>
<path class="c" stroke="#10ee10" d="M338.2 172.3C337.7 171.2 337.0 169.0 337.0 167.4C337.0 165.7 337.4 164.0 338.2 162.5C338.9 161.0 340.1 159.4 341.5 158.4C342.8 157.3 344.5 156.9 346.4 156.3C348.3 155.8 350.7 155.2 352.9 155.1C355.1 155.0 357.3 155.3 359.5 155.5C361.6 155.7 363.8 155.6 366.0 156.3C368.2 157.0 370.9 158.6 372.9 159.6C374.9 160.6 376.2 161.4 377.8 162.5C379.5 163.5 381.1 164.6 382.7 165.7C384.4 166.8 386.0 167.9 387.6 169.0C389.3 170.1 391.2 171.2 392.5 172.3C393.9 173.4 394.9 174.6 395.8 175.5C396.7 176.5 397.5 177.3 397.9 178.0C398.3 178.7 398.4 178.8 398.3 179.7C398.1 180.7 397.7 182.5 397.0 183.8C396.4 185.1 395.3 186.3 394.2 187.5C393.0 188.7 391.6 189.8 390.1 190.8C388.6 191.8 387.0 192.9 385.2 193.6C383.4 194.4 381.4 194.9 379.5 195.3C377.5 195.7 375.6 195.9 373.7 195.9C371.9 195.9 370.2 195.6 368.5 195.3C366.8 195.0 365.2 194.6 363.5 194.0C361.9 193.5 360.3 192.8 358.6 192.0C357.0 191.2 355.2 190.2 353.7 189.1C352.2 188.0 350.9 186.8 349.6 185.5C348.4 184.2 347.5 182.7 346.4 181.4C345.3 180.0 344.2 178.5 343.1 177.3C342.0 176.0 340.6 174.8 339.8 174.0C339.0 173.2 338.7 173.4 338.2 172.3Z"/>
<path class="c" stroke="#e8127c" d="M343.1 177.2C343.8 176.3 343.9 175.1 344.7 174.3C345.5 173.6 346.6 173.0 348.0 172.7C349.4 172.4 351.1 172.5 352.9 172.7C354.7 172.8 356.7 173.4 358.6 173.5C360.5 173.6 362.6 173.6 364.4 173.5C366.1 173.4 367.8 172.9 369.3 173.1C370.7 173.3 371.5 174.2 372.9 174.7C374.3 175.2 376.0 175.6 377.8 176.0C379.6 176.3 381.6 176.5 383.5 176.8C385.5 177.0 387.4 177.3 389.3 177.6C391.2 177.9 393.1 178.3 395.0 178.4C396.9 178.5 399.0 178.3 400.7 178.4C402.5 178.5 404.2 178.4 405.6 178.8C407.1 179.2 408.6 180.2 409.3 181.0C410.0 181.7 410.1 182.5 409.7 183.4C409.4 184.3 408.4 185.2 407.3 186.3C406.2 187.4 404.5 188.8 403.2 190.0C401.8 191.1 400.5 192.1 399.1 193.2C397.7 194.4 396.5 195.8 395.0 196.9C393.5 198.1 391.9 199.3 390.1 200.2C388.3 201.1 386.3 201.7 384.4 202.2C382.5 202.8 380.5 203.0 378.6 203.5C376.7 203.9 374.2 204.3 372.9 204.7C371.6 205.0 372.1 205.2 370.9 205.5C369.8 205.8 367.8 206.6 366.0 206.7C364.2 206.9 362.0 206.7 360.3 206.3C358.5 205.9 357.0 205.2 355.4 204.3C353.7 203.4 352.0 202.1 350.5 201.0C349.0 199.9 347.7 198.8 346.4 197.7C345.0 196.6 343.5 195.5 342.3 194.5C341.0 193.4 339.8 192.4 339.0 191.2C338.2 190.0 337.6 188.5 337.4 187.1C337.2 185.7 337.2 184.2 337.8 183.0C338.3 181.8 339.8 180.7 340.6 179.7C341.5 178.8 342.4 178.1 343.1 177.2Z"/>
<path class="c" stroke="#3fd4ea" d="M342.7 174.7C343.4 173.2 344.2 171.2 345.5 169.8C346.8 168.5 349.0 167.6 350.5 166.5C352.0 165.5 353.5 164.5 354.5 163.3C355.6 162.0 356.1 160.7 356.6 159.2C357.1 157.7 357.0 155.9 357.4 154.3C357.8 152.6 358.2 150.7 359.0 149.4C359.9 148.1 361.2 147.1 362.3 146.5C363.5 145.9 364.7 145.5 366.0 145.7C367.3 145.8 368.9 146.4 370.1 147.3C371.2 148.2 372.1 149.2 373.0 151.0C373.8 152.8 374.5 156.3 375.0 158.4C375.4 160.4 375.3 161.6 375.8 163.3C376.2 164.9 377.1 166.5 377.8 168.2C378.5 169.8 379.4 171.6 379.9 173.1C380.3 174.6 380.6 176.3 380.7 177.2C380.8 178.0 380.7 177.0 380.3 178.1C379.9 179.2 379.0 181.9 378.2 183.8C377.5 185.7 376.6 187.8 375.8 189.5C375.0 191.3 374.2 193.0 373.3 194.5C372.4 195.9 371.5 196.9 370.5 198.1C369.4 199.4 368.1 200.8 366.8 201.8C365.5 202.8 364.4 203.8 362.7 204.3C361.1 204.8 358.8 205.0 357.0 204.7C355.2 204.4 353.6 203.5 352.1 202.6C350.6 201.8 349.1 200.6 348.0 199.4C346.9 198.1 346.3 196.8 345.5 195.3C344.8 193.8 344.0 192.1 343.5 190.4C343.0 188.6 342.6 186.5 342.3 184.6C341.9 182.7 341.4 180.6 341.5 178.9C341.5 177.3 342.0 176.2 342.7 174.7Z"/>
</g>
<g><!-- panel PC2 vs PC5 -->
<circle class="d" cx="482.8" cy="182.8" r="4.0" fill="#f5a623"/>
<circle class="d" cx="481.4" cy="175.0" r="4.0" fill="#10ee10"/>
<circle class="d" cx="470.8" cy="185.9" r="4.0" fill="#8b0a8b"/>
<circle class="d" cx="465.0" cy="177.6" r="4.0" fill="#3fd4ea"/>
<path class="c" stroke="#1010e6" d="M464.6 175.1C465.0 174.0 466.0 173.0 467.1 172.2C468.2 171.4 470.0 171.1 471.2 170.2C472.4 169.3 473.5 168.0 474.5 166.9C475.4 165.8 476.1 164.5 476.9 163.6C477.7 162.8 478.5 162.3 479.4 161.6C480.2 160.9 480.9 160.0 482.2 159.5C483.5 159.1 485.5 158.9 487.1 158.7C488.7 158.6 490.5 158.5 492.0 158.7C493.5 158.9 494.9 159.4 496.1 160.0C497.3 160.5 498.3 161.1 499.4 162.0C500.4 162.9 501.5 164.2 502.2 165.3C502.9 166.4 503.2 167.5 503.5 168.5C503.7 169.6 503.5 170.6 503.9 171.8C504.2 173.0 505.0 174.7 505.5 175.9C506.0 177.1 506.7 178.3 506.7 179.2C506.7 180.1 506.1 180.3 505.5 181.4C504.9 182.4 504.1 184.0 503.0 185.5C502.0 186.9 500.7 188.5 499.4 190.0C498.1 191.4 496.6 192.8 495.3 194.0C493.9 195.3 492.5 196.7 491.2 197.7C489.8 198.8 488.6 199.6 487.1 200.2C485.6 200.8 483.8 201.3 482.2 201.4C480.5 201.5 479.1 201.4 477.3 201.0C475.4 200.6 472.7 199.8 471.2 199.0C469.6 198.1 468.8 197.2 467.9 196.1C467.0 194.9 466.4 193.4 465.9 192.0C465.3 190.6 464.6 189.3 464.6 187.9C464.6 186.5 465.8 185.3 465.9 183.8C465.9 182.3 465.2 180.4 465.0 178.9C464.8 177.5 464.3 176.2 464.6 175.1Z"/>
<path class="c" stroke="#f5a623" d="M451.5 176.7C451.3 176.0 450.9 174.5 451.1 173.5C451.4 172.4 452.2 171.5 453.2 170.6C454.2 169.7 455.9 168.8 457.3 168.1C458.6 167.5 460.0 167.0 461.4 166.7C462.7 166.5 464.1 166.3 465.5 166.5C466.8 166.7 468.2 167.4 469.5 167.7C470.9 168.1 472.1 168.5 473.6 168.5C475.2 168.5 477.2 168.2 478.9 167.7C480.6 167.2 482.2 166.3 483.8 165.7C485.5 165.1 487.1 164.4 488.7 164.0C490.4 163.7 492.0 163.7 493.6 163.6C495.3 163.6 497.1 163.8 498.5 163.6C500.0 163.4 501.2 162.6 502.2 162.4C503.2 162.2 503.9 162.1 504.7 162.4C505.4 162.8 506.3 163.6 506.7 164.5C507.1 165.3 507.0 166.5 507.1 167.7C507.3 169.0 507.3 170.3 507.5 171.8C507.8 173.3 508.5 175.7 508.8 176.7C509.0 177.8 509.2 177.0 509.2 178.1C509.1 179.1 508.8 181.4 508.4 183.0C508.0 184.6 507.3 186.3 506.7 187.9C506.1 189.5 505.5 191.3 504.7 192.8C503.9 194.3 503.0 195.6 501.8 196.9C500.7 198.2 499.2 199.5 497.7 200.6C496.2 201.7 494.5 202.8 492.8 203.5C491.2 204.1 489.5 204.4 487.9 204.7C486.3 205.0 484.6 205.1 483.0 205.1C481.4 205.1 479.6 204.8 478.1 204.7C476.6 204.5 475.0 204.5 474.0 204.3C473.0 204.0 473.2 203.5 472.0 203.0C470.8 202.6 468.3 202.0 467.1 201.4C465.9 200.8 465.4 200.4 464.6 199.4C463.9 198.3 463.2 196.6 462.6 195.3C462.0 193.9 461.5 192.5 461.0 191.2C460.4 189.8 460.1 188.3 459.3 187.1C458.6 185.9 457.4 184.8 456.5 183.8C455.5 182.9 454.3 182.3 453.6 181.4C452.9 180.4 452.7 178.9 452.4 178.1C452.0 177.3 451.8 177.5 451.5 176.7Z"/>
<path class="c" stroke="#10ee10" d="M443.8 170.2C443.3 169.0 443.3 167.3 443.8 166.1C444.2 164.9 445.3 163.6 446.6 162.8C447.9 162.0 449.6 161.5 451.5 161.2C453.5 160.9 455.9 161.0 458.1 161.0C460.3 161.0 462.5 161.2 464.6 161.2C466.8 161.2 469.1 161.2 471.2 161.2C473.2 161.1 474.8 161.1 476.9 160.8C479.0 160.4 481.8 159.3 483.8 159.1C485.8 158.9 487.1 159.3 488.7 159.5C490.4 159.8 492.0 160.3 493.6 160.8C495.3 161.2 496.9 161.7 498.5 162.4C500.2 163.2 502.0 164.1 503.5 165.3C505.0 166.4 506.3 167.9 507.5 169.4C508.8 170.9 509.7 172.8 510.8 174.3C511.9 175.8 513.4 177.3 514.1 178.4C514.8 179.4 515.2 179.6 514.9 180.5C514.6 181.5 513.4 182.7 512.5 183.8C511.5 184.9 510.4 186.0 509.2 187.1C508.0 188.2 506.7 189.5 505.1 190.4C503.5 191.2 501.4 191.9 499.4 192.4C497.3 192.9 495.0 193.1 492.8 193.2C490.6 193.3 488.5 193.1 486.3 193.0C484.1 192.8 481.8 192.6 479.7 192.4C477.7 192.2 475.6 192.2 474.0 191.6C472.4 191.0 471.8 189.5 470.4 188.7C468.9 187.9 467.1 187.2 465.5 186.7C463.8 186.2 462.0 186.5 460.5 185.9C459.0 185.2 457.5 184.2 456.5 183.0C455.4 181.8 455.0 180.1 454.0 178.9C453.0 177.7 452.0 176.5 450.7 175.6C449.5 174.7 447.8 174.4 446.6 173.5C445.5 172.5 444.2 171.4 443.8 170.2Z"/>
<path class="c" stroke="#e8127c" d="M449.1 174.3C450.2 173.6 452.4 172.5 454.0 171.8C455.6 171.1 457.3 170.6 458.9 170.2C460.5 169.8 462.2 169.5 463.8 169.5C465.5 169.5 467.1 169.8 468.7 170.2C470.4 170.6 472.1 171.3 473.6 171.8C475.1 172.4 476.2 172.8 477.7 173.5C479.3 174.1 481.3 175.0 483.0 175.5C484.7 176.0 486.4 176.3 487.9 176.7C489.4 177.1 490.4 177.3 492.0 178.0C493.6 178.6 496.0 179.5 497.7 180.5C499.5 181.6 501.2 183.1 502.6 184.2C504.1 185.3 505.5 185.9 506.3 187.1C507.1 188.2 507.5 189.7 507.5 191.2C507.5 192.7 507.0 194.6 506.3 196.1C505.6 197.6 504.6 199.0 503.5 200.2C502.3 201.4 500.9 202.6 499.4 203.5C497.9 204.3 496.1 205.1 494.5 205.5C492.8 205.9 491.3 205.9 489.5 205.9C487.8 205.9 485.6 205.6 483.8 205.5C482.0 205.4 480.5 205.2 478.9 205.1C477.3 205.0 475.4 205.1 474.0 204.7C472.6 204.3 471.9 203.2 470.4 202.6C468.8 202.0 466.4 201.6 464.6 201.0C462.9 200.4 461.4 199.8 459.7 199.0C458.1 198.1 456.5 196.8 454.8 195.7C453.2 194.6 451.3 193.5 449.9 192.4C448.5 191.3 447.1 190.4 446.2 189.1C445.3 187.8 444.8 186.2 444.6 184.6C444.4 183.1 444.5 181.2 445.0 179.7C445.5 178.2 446.8 176.5 447.5 175.6C448.1 174.7 448.0 174.9 449.1 174.3Z"/>
<path class="c" stroke="#3fd4ea" d="M439.7 177.5C439.7 176.0 440.4 175.0 441.3 173.9C442.2 172.8 443.8 172.0 445.0 171.0C446.2 170.0 447.4 169.2 448.3 168.1C449.2 167.0 449.8 165.9 450.3 164.5C450.9 163.0 450.9 161.2 451.5 159.5C452.2 157.9 453.5 156.3 454.4 154.6C455.3 153.0 456.0 150.9 456.9 149.7C457.8 148.6 458.8 147.8 459.7 147.7C460.7 147.5 461.7 148.0 462.6 148.9C463.5 149.8 464.4 151.6 465.0 153.0C465.7 154.4 466.0 155.6 466.3 157.1C466.5 158.6 466.2 160.7 466.7 162.0C467.2 163.3 468.0 164.2 469.1 164.9C470.3 165.5 472.1 165.4 473.6 165.7C475.2 166.0 477.1 166.0 478.5 166.5C480.0 167.0 480.9 168.0 482.2 169.0C483.5 169.9 485.0 171.1 486.3 172.2C487.5 173.4 488.7 174.8 489.5 175.9C490.4 177.1 491.2 178.0 491.6 179.2C492.0 180.4 492.0 181.4 492.0 183.0C492.0 184.6 491.8 187.0 491.6 188.7C491.4 190.5 491.2 192.1 490.8 193.6C490.4 195.1 489.9 196.6 489.1 197.7C488.4 198.9 487.4 199.8 486.3 200.6C485.1 201.3 483.5 201.8 482.2 202.2C480.8 202.6 479.5 202.8 478.1 203.0C476.7 203.3 475.6 203.7 474.0 203.6C472.4 203.6 470.6 203.1 468.7 202.6C466.9 202.2 464.8 201.8 463.0 201.0C461.2 200.2 459.7 199.2 458.1 198.1C456.5 197.0 454.8 195.7 453.2 194.5C451.5 193.2 449.8 192.0 448.3 190.8C446.8 189.5 445.3 188.4 444.2 187.1C443.0 185.8 442.1 184.6 441.3 183.0C440.6 181.4 439.7 179.1 439.7 177.5Z"/>
</g>
<g><!-- panel PC3 vs PC4 -->
<circle class="d" cx="363.0" cy="291.3" r="4.0" fill="#1010e6"/>
<circle class="d" cx="365.8" cy="288.7" r="4.0" fill="#f5a623"/>
<circle class="d" cx="369.6" cy="276.8" r="4.0" fill="#10ee10"/>
<circle class="d" cx="373.6" cy="293.5" r="4.0" fill="#8b0a8b"/>
<circle class="d" cx="363.1" cy="274.2" r="4.0" fill="#3fd4ea"/>
<path class="c" stroke="#1010e6" d="M344.9 278.9C345.2 277.9 345.5 277.3 346.4 276.7C347.2 276.1 348.7 275.6 350.0 275.3C351.3 275.0 352.9 275.1 354.4 274.9C355.8 274.7 357.3 274.2 358.7 274.2C360.2 274.1 361.6 274.5 363.1 274.5C364.5 274.6 366.0 274.4 367.5 274.5C368.9 274.7 370.7 274.9 371.8 275.6C373.0 276.4 373.7 278.0 374.4 279.1C375.0 280.2 375.4 281.1 375.8 282.0C376.2 282.9 376.3 283.2 376.9 284.4C377.5 285.5 378.4 287.3 379.5 288.7C380.5 290.2 381.9 291.8 383.1 293.1C384.3 294.4 385.6 295.5 386.7 296.7C387.8 297.9 389.0 299.3 389.6 300.4C390.2 301.5 390.4 302.2 390.4 303.3C390.3 304.3 389.9 305.6 389.3 306.5C388.7 307.5 387.8 308.5 386.7 309.1C385.7 309.7 384.3 309.9 383.1 310.0C381.9 310.0 380.5 309.7 379.5 309.5C378.4 309.2 378.0 308.8 376.5 308.7C375.1 308.6 372.4 308.9 370.7 308.8C369.1 308.7 368.1 308.3 366.7 308.4C365.3 308.5 363.8 309.2 362.4 309.5C360.9 309.7 359.5 310.1 358.0 310.0C356.5 310.0 355.1 309.6 353.6 309.1C352.2 308.6 350.6 307.6 349.3 306.9C347.9 306.2 346.7 305.6 345.6 304.7C344.5 303.8 343.6 302.7 342.7 301.5C341.9 300.2 340.9 298.4 340.5 297.1C340.2 295.8 340.4 294.5 340.5 293.5C340.7 292.4 341.2 291.5 341.6 290.5C342.1 289.6 343.0 289.0 343.5 287.6C343.9 286.3 344.3 284.0 344.5 282.5C344.8 281.1 344.6 279.9 344.9 278.9Z"/>
<path class="c" stroke="#f5a623" d="M339.1 270.9C339.1 269.8 339.6 268.8 340.5 268.0C341.5 267.2 343.3 266.7 344.9 266.2C346.5 265.6 348.4 265.3 350.0 264.7C351.6 264.1 352.9 263.1 354.4 262.5C355.8 262.0 357.3 261.5 358.7 261.6C360.2 261.7 361.8 262.3 363.1 262.9C364.4 263.5 365.4 264.5 366.7 265.1C368.1 265.6 369.8 265.6 371.1 266.2C372.4 266.8 373.5 267.7 374.4 268.5C375.3 269.4 375.7 270.3 376.5 271.1C377.4 271.9 378.6 272.5 379.5 273.3C380.3 274.1 381.0 274.8 381.6 275.8C382.2 276.8 382.7 278.1 383.1 279.1C383.5 280.1 383.9 281.2 383.8 282.0C383.8 282.8 382.8 282.6 382.7 283.6C382.6 284.6 382.9 286.7 383.1 288.0C383.3 289.3 383.4 290.4 383.8 291.6C384.2 292.8 385.2 294.1 385.6 295.3C386.1 296.5 386.7 297.7 386.7 298.9C386.7 300.1 386.4 301.6 385.6 302.5C384.9 303.5 383.6 304.1 382.4 304.7C381.1 305.3 379.5 305.8 378.0 306.2C376.5 306.6 375.1 307.2 373.6 307.3C372.2 307.4 370.6 307.2 369.3 306.9C367.9 306.7 366.8 306.2 365.6 305.8C364.4 305.5 363.0 305.0 362.0 304.7C361.0 304.5 360.6 304.8 359.5 304.4C358.3 303.9 356.5 302.9 355.1 302.2C353.6 301.5 352.2 300.7 350.7 300.0C349.3 299.3 347.7 298.8 346.4 298.2C345.0 297.5 343.8 296.9 342.7 296.0C341.7 295.1 340.8 294.0 340.2 292.7C339.5 291.5 339.0 289.8 338.7 288.4C338.4 286.9 338.2 285.2 338.4 284.0C338.5 282.8 339.0 282.2 339.5 281.1C339.9 280.0 340.7 278.5 340.9 277.5C341.1 276.4 340.8 275.6 340.5 274.5C340.2 273.5 339.1 272.0 339.1 270.9Z"/>
<path class="c" stroke="#10ee10" d="M345.8 266.0C345.8 264.8 345.8 262.9 346.4 261.6C346.9 260.4 348.3 259.6 349.1 258.4C349.9 257.1 350.6 255.0 351.3 254.0C351.9 253.0 352.1 252.3 352.9 252.4C353.7 252.5 354.9 253.9 356.2 254.5C357.5 255.2 359.0 256.0 360.5 256.2C362.1 256.4 364.0 255.5 365.5 255.6C366.9 255.8 367.9 256.4 369.3 256.9C370.6 257.4 372.2 258.2 373.6 258.7C375.1 259.2 376.7 259.4 378.0 259.8C379.3 260.2 380.5 260.6 381.6 261.3C382.7 261.9 383.6 262.8 384.5 263.8C385.5 264.8 386.6 266.0 387.5 267.1C388.3 268.2 389.3 269.2 389.6 270.4C390.0 271.5 389.9 272.8 389.6 274.0C389.3 275.2 388.4 276.4 387.8 277.6C387.2 278.8 386.5 280.3 386.0 281.3C385.5 282.3 385.2 282.5 384.9 283.6C384.7 284.8 384.7 286.5 384.5 288.0C384.4 289.5 384.3 290.9 383.8 292.4C383.3 293.8 382.6 295.5 381.6 296.7C380.7 298.0 379.3 299.2 378.0 300.0C376.7 300.8 375.1 301.3 373.6 301.5C372.2 301.6 370.6 301.3 369.3 301.1C367.9 300.8 367.0 300.4 365.6 300.0C364.2 299.6 362.4 299.1 360.9 298.5C359.4 298.0 357.9 297.4 356.5 296.7C355.2 296.1 353.9 295.5 352.9 294.5C351.9 293.6 351.3 292.4 350.7 291.3C350.1 290.1 349.8 288.8 349.3 287.6C348.8 286.4 348.2 285.3 347.8 284.0C347.4 282.7 346.8 281.2 346.7 279.6C346.6 278.1 347.2 276.4 347.1 274.5C347.0 272.7 346.6 270.2 346.4 268.7C346.2 267.3 345.8 267.2 345.8 266.0Z"/>
<path class="c" stroke="#e8127c" d="M338.4 275.3C338.5 274.1 338.8 273.0 339.5 272.0C340.1 271.0 340.8 270.2 342.0 269.5C343.2 268.7 344.9 268.0 346.4 267.6C347.8 267.3 349.5 267.0 350.7 267.3C351.9 267.5 352.7 268.4 353.6 269.1C354.6 269.8 355.5 270.7 356.5 271.3C357.6 271.8 358.8 272.3 360.2 272.4C361.5 272.4 363.1 271.6 364.5 271.6C366.0 271.6 367.3 271.9 368.9 272.4C370.5 272.8 372.7 273.7 374.0 274.2C375.3 274.7 375.7 274.8 376.5 275.5C377.4 276.2 378.4 277.4 379.1 278.4C379.8 279.3 380.2 280.4 380.9 281.3C381.6 282.2 382.1 282.8 383.1 283.6C384.1 284.5 385.5 285.6 386.7 286.5C387.9 287.5 389.3 288.2 390.4 289.5C391.4 290.7 392.3 292.4 392.9 293.8C393.5 295.3 394.1 296.7 394.0 298.2C393.9 299.6 393.2 301.3 392.5 302.5C391.9 303.8 391.0 304.8 390.0 305.8C389.0 306.8 387.9 308.0 386.7 308.7C385.6 309.5 384.4 309.9 383.1 310.2C381.8 310.4 380.2 310.4 378.7 310.2C377.3 310.0 375.8 309.4 374.4 309.1C372.9 308.8 371.5 308.5 370.0 308.4C368.5 308.2 367.0 308.2 365.6 308.0C364.3 307.8 362.8 307.5 362.0 307.3C361.2 307.1 361.8 307.3 360.9 306.9C360.0 306.5 357.9 305.6 356.5 304.7C355.2 303.9 354.0 302.8 352.9 301.8C351.8 300.8 350.8 299.7 350.0 298.5C349.2 297.4 348.7 296.1 347.8 294.9C347.0 293.7 345.8 292.5 344.9 291.3C344.0 290.1 343.0 288.8 342.4 287.6C341.8 286.4 341.6 284.8 341.3 284.0C340.9 283.2 340.6 283.4 340.2 282.5C339.8 281.7 339.0 280.1 338.7 278.9C338.4 277.7 338.2 276.4 338.4 275.3Z"/>
<path class="c" stroke="#3fd4ea" d="M348.5 305.1C348.0 304.1 348.1 303.3 348.2 302.2C348.3 301.1 349.3 299.8 349.3 298.5C349.3 297.3 348.7 296.4 348.2 294.9C347.6 293.5 346.6 291.6 346.0 289.8C345.4 288.0 344.7 285.1 344.5 284.0C344.4 282.9 344.7 284.0 344.9 283.3C345.2 282.5 345.4 280.7 346.0 279.6C346.6 278.5 347.9 277.8 348.5 276.7C349.2 275.6 349.7 274.7 349.9 273.1C350.0 271.5 349.8 269.5 349.6 267.3C349.5 265.1 348.6 262.4 348.9 260.0C349.2 257.6 350.4 255.4 351.3 252.9C352.1 250.5 352.9 247.6 354.0 245.3C355.1 242.9 356.5 240.6 357.8 238.7C359.2 236.8 360.7 235.1 362.2 233.8C363.6 232.6 365.3 231.7 366.5 231.3C367.8 230.9 368.9 230.9 369.8 231.6C370.7 232.3 371.5 233.7 372.0 235.5C372.5 237.2 372.8 239.6 373.1 242.0C373.4 244.4 373.5 247.1 373.6 249.6C373.7 252.2 373.8 255.0 373.6 257.3C373.5 259.5 373.2 261.4 372.9 263.1C372.7 264.8 372.4 266.0 372.2 267.5C371.9 268.9 371.8 270.4 371.5 271.8C371.2 273.3 370.7 274.7 370.4 276.2C370.1 277.6 369.9 279.2 369.6 280.5C369.4 281.9 369.2 282.9 368.9 284.4C368.7 285.8 368.5 287.8 368.2 289.5C367.8 291.2 367.3 293.0 366.7 294.5C366.2 296.1 365.6 297.7 364.9 298.9C364.2 300.1 363.4 301.3 362.7 301.8C362.1 302.4 361.8 301.5 360.9 302.2C360.0 302.8 358.3 304.8 357.3 305.8C356.2 306.8 355.7 308.0 354.7 308.4C353.8 308.7 352.5 308.5 351.5 308.0C350.4 307.5 349.1 306.1 348.5 305.1Z"/>
</g>
<g><!-- panel PC3 vs PC5 -->
<circle class="d" cx="483.8" cy="291.2" r="4.0" fill="#1010e6"/>
<circle class="d" cx="482.5" cy="288.6" r="4.0" fill="#f5a623"/>
<circle class="d" cx="480.9" cy="275.4" r="4.0" fill="#10ee10"/>
<circle class="d" cx="470.9" cy="293.9" r="4.0" fill="#8b0a8b"/>
<circle class="d" cx="464.7" cy="273.1" r="4.0" fill="#3fd4ea"/>
<path class="c" stroke="#1010e6" d="M465.6 280.5C466.5 279.3 467.7 278.7 469.1 277.9C470.4 277.1 471.8 276.2 473.4 275.7C475.0 275.2 476.9 274.9 478.7 274.8C480.4 274.7 482.6 274.5 483.9 274.8C485.2 275.1 485.4 276.2 486.6 276.4C487.8 276.7 489.5 276.6 490.9 276.4C492.4 276.3 494.0 275.5 495.3 275.6C496.6 275.6 497.7 276.3 498.8 276.9C499.9 277.5 501.1 278.1 501.9 279.1C502.6 280.0 502.9 281.2 503.2 282.5C503.4 283.9 503.1 285.3 503.2 286.9C503.2 288.6 503.5 290.7 503.6 292.5C503.7 294.3 504.3 296.1 504.0 297.7C503.8 299.3 503.1 300.7 502.3 302.1C501.5 303.5 500.4 304.8 499.2 306.0C498.1 307.2 496.8 308.3 495.3 309.1C493.8 309.9 491.8 310.4 490.1 310.8C488.3 311.2 486.6 311.3 484.8 311.2C483.1 311.2 481.2 310.8 479.6 310.4C478.0 309.9 476.6 309.0 475.2 308.6C473.9 308.3 472.8 308.7 471.7 308.3C470.5 307.8 469.0 306.9 468.2 306.1C467.4 305.3 467.4 304.8 466.9 303.5C466.4 302.1 465.7 299.7 465.1 297.8C464.5 295.9 463.8 293.5 463.4 292.1C462.9 290.7 462.5 290.4 462.5 289.2C462.5 288.0 462.9 286.3 463.4 284.8C463.9 283.4 464.6 281.6 465.6 280.5Z"/>
<path class="c" stroke="#f5a623" d="M467.3 272.7C468.1 271.4 468.9 270.3 469.9 269.2C470.9 268.1 472.1 267.0 473.4 266.1C474.7 265.2 476.8 264.4 477.8 263.9C478.8 263.5 478.4 263.6 479.6 263.3C480.8 263.1 483.1 262.5 484.8 262.5C486.6 262.4 488.3 262.5 490.1 262.9C491.8 263.3 493.7 264.3 495.3 265.1C496.9 265.9 498.2 266.8 499.7 267.7C501.1 268.7 502.7 269.7 504.0 270.8C505.3 271.8 506.4 272.7 507.5 273.8C508.6 274.9 509.8 276.1 510.6 277.3C511.4 278.5 512.2 279.5 512.3 280.8C512.5 282.1 512.0 283.9 511.5 285.2C510.9 286.5 509.9 287.7 509.3 288.7C508.6 289.6 508.4 289.8 507.5 290.7C506.7 291.7 505.2 293.0 504.0 294.2C502.9 295.5 501.9 296.8 500.5 298.1C499.2 299.5 497.8 300.9 496.2 302.1C494.6 303.2 492.7 304.3 490.9 305.1C489.2 305.9 487.3 306.4 485.7 306.9C484.1 307.4 482.8 307.8 481.3 308.2C479.9 308.6 478.4 309.0 476.9 309.1C475.4 309.3 473.8 309.3 472.5 309.0C471.3 308.7 470.2 308.2 469.5 307.4C468.8 306.6 468.5 305.4 468.2 304.3C467.9 303.2 468.0 302.1 467.7 300.8C467.5 299.5 467.2 298.1 466.9 296.5C466.5 294.9 465.9 292.7 465.6 291.2C465.2 289.7 464.9 289.0 464.7 287.5C464.5 286.0 464.2 284.0 464.3 282.2C464.3 280.5 464.6 278.6 465.1 277.0C465.6 275.4 466.5 274.0 467.3 272.7Z"/>
<path class="c" stroke="#10ee10" d="M450.7 262.2C451.2 261.7 451.9 261.6 453.3 261.5C454.8 261.4 457.4 261.4 459.5 261.5C461.5 261.6 463.5 261.9 465.6 262.2C467.6 262.5 469.8 262.9 471.7 263.2C473.6 263.5 475.3 263.9 476.9 263.9C478.5 264.0 479.8 263.6 481.3 263.5C482.7 263.4 484.0 263.0 485.6 263.2C487.2 263.4 489.3 264.0 490.9 264.7C492.6 265.3 494.1 267.0 495.3 267.3C496.5 267.6 497.1 266.8 497.9 266.4C498.8 266.0 499.5 264.9 500.5 265.1C501.6 265.3 502.9 266.7 504.0 267.7C505.2 268.7 506.9 270.0 507.5 271.2C508.2 272.4 508.1 273.5 508.0 274.7C507.8 275.9 506.8 276.9 506.7 278.2C506.5 279.4 506.9 280.9 506.9 282.3C506.9 283.7 506.6 285.3 506.4 286.7C506.2 288.1 506.5 289.5 505.8 290.7C505.1 292.0 503.7 293.1 502.3 294.2C500.8 295.3 498.8 296.4 497.1 297.3C495.3 298.1 493.6 298.9 491.8 299.5C490.1 300.0 488.3 300.6 486.6 300.8C484.8 300.9 482.9 300.6 481.3 300.3C479.7 300.0 477.9 299.4 477.0 299.0C476.1 298.7 476.9 298.9 476.0 298.2C475.2 297.5 472.8 296.0 471.7 294.7C470.5 293.4 469.8 292.0 469.1 290.4C468.3 288.7 468.0 286.1 467.3 284.8C466.6 283.6 465.6 283.4 464.7 282.7C463.7 281.9 462.5 281.4 461.6 280.5C460.8 279.5 460.1 278.3 459.5 277.0C458.8 275.7 457.5 273.8 457.7 272.6C457.9 271.4 460.1 270.6 460.8 269.6C461.4 268.6 461.6 267.5 461.6 266.5C461.6 265.6 461.6 264.3 460.8 263.8C460.0 263.2 458.1 263.2 456.8 263.2C455.5 263.3 453.9 263.7 452.9 263.9C451.9 264.1 451.1 264.7 450.7 264.4C450.4 264.1 450.3 262.7 450.7 262.2Z"/>
<path class="c" stroke="#e8127c" d="M456.4 272.7C457.4 271.6 458.2 270.6 459.5 270.0C460.7 269.5 462.2 269.3 463.8 269.2C465.4 269.0 467.3 269.1 469.1 269.2C470.8 269.2 472.5 269.3 474.3 269.6C476.0 269.9 477.9 270.4 479.5 270.9C481.1 271.4 482.6 272.1 483.9 272.7C485.2 273.2 486.1 273.9 487.5 274.3C488.8 274.6 490.5 274.5 491.8 274.7C493.1 274.8 494.4 274.7 495.3 275.1C496.3 275.6 496.9 276.2 497.5 277.3C498.1 278.4 498.4 280.2 498.8 281.7C499.2 283.1 499.6 284.6 500.1 286.0C500.6 287.5 501.4 289.0 501.9 290.4C502.3 291.8 502.9 292.9 502.7 294.2C502.5 295.5 501.5 296.9 500.5 298.1C499.6 299.4 498.4 300.5 497.1 301.6C495.7 302.7 494.3 303.9 492.7 304.7C491.1 305.5 489.2 305.9 487.5 306.4C485.7 307.0 484.0 307.6 482.2 308.2C480.5 308.8 478.6 309.3 477.0 309.9C475.4 310.6 473.6 311.6 472.6 312.1C471.6 312.6 471.7 312.8 470.8 313.1C469.9 313.3 468.5 313.8 467.3 313.5C466.1 313.2 465.0 312.1 463.8 311.3C462.7 310.5 461.6 309.6 460.3 308.7C459.1 307.8 457.3 307.2 456.4 306.1C455.5 304.9 455.2 303.3 455.1 301.7C454.9 300.1 455.3 298.2 455.5 296.5C455.7 294.7 456.5 293.2 456.4 291.2C456.3 289.3 455.7 286.6 455.1 284.8C454.5 283.0 453.2 281.9 452.9 280.5C452.6 279.0 452.8 277.4 453.3 276.1C453.9 274.8 455.4 273.7 456.4 272.7Z"/>
<path class="c" stroke="#3fd4ea" d="M450.3 247.3C450.4 246.3 449.7 244.9 449.9 243.9C450.0 242.8 450.3 241.5 451.2 240.8C452.0 240.1 453.6 239.6 455.1 239.5C456.6 239.3 458.7 239.6 460.3 239.9C461.9 240.3 463.4 240.9 464.7 241.7C466.0 242.5 467.3 243.5 468.2 244.7C469.1 246.0 469.6 247.5 469.9 249.1C470.2 250.7 470.1 252.6 469.9 254.3C469.7 256.1 469.1 257.8 468.6 259.6C468.2 261.3 467.7 263.2 467.3 264.8C466.9 266.4 466.8 267.6 466.4 269.2C466.1 270.8 465.7 272.8 465.4 274.4C465.1 275.9 464.1 277.8 464.5 278.3C465.0 278.8 466.7 277.7 468.2 277.4C469.7 277.1 471.7 276.8 473.4 276.5C475.2 276.3 477.1 276.0 478.7 276.1C480.3 276.3 481.9 276.5 483.0 277.4C484.1 278.3 484.8 279.8 485.2 281.3C485.6 282.9 485.6 284.8 485.2 286.6C484.8 288.3 483.7 290.1 483.0 291.8C482.3 293.6 481.3 295.6 480.8 297.1C480.3 298.5 480.4 298.9 480.0 300.3C479.7 301.7 479.1 304.3 478.7 305.6C478.3 306.9 477.6 307.4 477.7 308.2C477.8 308.9 478.3 309.6 479.2 310.1C480.0 310.6 481.8 310.7 482.7 311.2C483.5 311.8 484.3 312.7 484.4 313.4C484.5 314.1 484.2 315.2 483.5 315.6C482.9 316.0 481.6 315.9 480.5 315.6C479.4 315.3 478.1 314.7 477.0 313.9C475.8 313.1 474.8 311.5 473.5 310.8C472.2 310.1 470.2 310.2 469.1 309.6C468.0 308.9 467.5 308.0 466.9 306.9C466.3 305.9 466.1 304.8 465.6 303.5C465.1 302.1 464.6 300.5 463.8 299.1C463.0 297.6 461.6 296.2 460.8 294.7C459.9 293.3 459.0 291.4 458.6 290.4C458.1 289.3 458.1 289.5 458.1 288.3C458.1 287.1 458.1 284.8 458.6 283.1C459.0 281.3 460.0 279.3 460.8 277.9C461.5 276.4 463.6 275.4 462.9 274.4C462.3 273.3 458.6 272.3 456.8 271.3C455.1 270.4 453.9 269.7 452.5 268.7C451.0 267.8 449.2 266.8 448.1 265.7C447.0 264.6 446.4 263.6 445.9 262.2C445.5 260.8 445.3 258.8 445.5 257.4C445.6 255.9 446.1 254.7 446.8 253.5C447.5 252.2 448.8 251.0 449.4 250.0C450.0 248.9 450.2 248.4 450.3 247.3Z"/>
</g>
<g><!-- panel PC4 vs PC5 -->
<circle class="d" cx="483.4" cy="405.8" r="4.0" fill="#1010e6"/>
<circle class="d" cx="482.4" cy="402.6" r="4.0" fill="#f5a623"/>
<circle class="d" cx="481.3" cy="398.2" r="4.0" fill="#10ee10"/>
<circle class="d" cx="471.1" cy="395.2" r="4.0" fill="#8b0a8b"/>
<circle class="d" cx="465.4" cy="405.1" r="4.0" fill="#3fd4ea"/>
<path class="c" stroke="#1010e6" d="M464.5 409.2C464.1 407.8 464.6 406.3 465.0 404.8C465.3 403.3 466.2 401.9 466.7 400.4C467.2 399.0 467.7 397.4 468.0 396.1C468.3 394.8 468.2 393.7 468.5 392.6C468.8 391.4 469.3 390.3 469.8 389.1C470.3 387.9 470.8 386.7 471.5 385.6C472.3 384.5 473.1 383.3 474.1 382.5C475.2 381.7 476.4 381.1 477.6 380.8C478.9 380.5 480.2 380.5 481.5 380.8C482.7 381.1 483.8 381.8 484.9 382.5C486.1 383.3 487.6 384.2 488.4 385.2C489.3 386.1 489.6 387.1 490.2 388.2C490.8 389.3 491.1 390.7 491.9 391.7C492.8 392.7 494.3 393.5 495.4 394.3C496.6 395.2 497.9 396.1 498.9 396.9C499.9 397.8 500.8 398.5 501.5 399.6C502.3 400.6 502.8 401.7 503.3 403.1C503.7 404.4 504.0 406.0 504.1 407.4C504.3 408.9 504.3 410.5 504.1 411.8C504.0 413.0 503.6 413.8 503.3 415.0C502.9 416.2 502.5 417.8 502.0 418.9C501.4 420.1 500.6 421.3 499.8 422.0C499.0 422.7 498.1 422.8 497.2 423.3C496.2 423.8 495.0 424.4 494.1 425.1C493.2 425.7 492.9 426.6 491.9 427.0C491.0 427.3 489.7 427.4 488.4 427.2C487.1 427.1 485.4 426.4 484.1 425.9C482.8 425.4 481.9 424.7 480.6 424.2C479.3 423.7 477.4 423.5 476.2 422.9C475.1 422.2 474.5 421.3 473.6 420.3C472.7 419.2 472.0 417.9 471.0 416.8C470.0 415.6 468.6 414.5 467.5 413.3C466.4 412.0 465.0 410.6 464.5 409.2Z"/>
<path class="c" stroke="#f5a623" d="M459.7 407.4C459.5 406.1 459.8 404.5 460.2 403.1C460.5 401.6 461.2 400.1 461.9 398.7C462.7 397.3 463.5 396.0 464.5 394.8C465.6 393.5 466.9 392.2 468.0 391.3C469.2 390.3 470.2 389.7 471.5 389.1C472.8 388.5 474.6 388.1 475.9 387.8C477.2 387.5 478.4 387.3 479.4 387.3C480.4 387.3 481.1 387.9 482.0 387.8C482.9 387.7 484.0 387.5 484.9 386.9C485.9 386.3 486.5 385.1 487.6 384.3C488.6 383.5 489.9 382.5 491.1 382.1C492.2 381.7 493.5 381.4 494.5 381.7C495.6 382.0 496.7 382.9 497.2 383.9C497.7 384.8 497.6 386.0 497.6 387.3C497.6 388.7 497.0 390.4 497.2 391.7C497.3 393.0 497.7 394.3 498.5 395.2C499.2 396.1 500.5 396.2 501.5 396.9C502.5 397.7 503.8 398.4 504.6 399.6C505.4 400.7 506.0 402.3 506.3 403.9C506.6 405.5 506.5 407.6 506.3 409.2C506.2 410.8 506.3 411.9 505.5 413.5C504.7 415.2 502.4 417.3 501.5 418.9C500.7 420.6 500.7 421.9 500.2 423.3C499.8 424.8 499.6 426.6 498.9 427.7C498.3 428.8 497.5 429.3 496.3 429.9C495.1 430.4 493.4 430.5 491.9 430.7C490.5 430.9 489.0 431.0 487.6 431.2C486.1 431.3 484.7 431.7 483.2 431.6C481.7 431.5 480.3 430.8 478.8 430.3C477.4 429.8 475.8 429.3 474.5 428.5C473.2 427.8 472.1 426.9 471.0 425.9C469.8 424.9 468.3 423.5 467.5 422.4C466.7 421.4 466.9 421.0 466.3 419.8C465.7 418.7 464.8 416.9 464.1 415.5C463.4 414.0 462.7 412.4 461.9 411.1C461.2 409.8 460.0 408.8 459.7 407.4Z"/>
<path class="c" stroke="#10ee10" d="M450.1 408.7C450.0 407.8 450.6 406.3 451.5 405.2C452.3 404.2 454.1 403.7 455.4 402.6C456.7 401.5 458.1 400.0 459.3 398.7C460.5 397.4 461.5 396.1 462.8 394.8C464.1 393.5 465.7 391.9 467.2 390.8C468.6 389.7 469.9 388.9 471.5 388.2C473.1 387.5 475.3 386.8 476.8 386.5C478.3 386.1 479.1 386.3 480.6 386.0C482.1 385.8 484.1 385.2 485.8 385.2C487.6 385.1 489.5 385.5 491.1 385.6C492.7 385.7 494.0 385.7 495.4 386.0C496.9 386.3 498.5 386.5 499.8 387.3C501.1 388.1 502.3 389.7 503.3 390.8C504.3 392.0 505.3 393.3 505.9 394.3C506.5 395.3 506.9 395.9 506.8 396.9C506.6 398.0 505.7 399.3 505.0 400.4C504.4 401.6 503.4 402.6 502.8 403.9C502.3 405.2 501.9 407.0 501.5 408.3C501.2 409.6 501.2 410.8 500.7 411.8C500.1 412.8 499.1 413.6 498.0 414.4C497.0 415.2 496.0 415.6 494.5 416.3C493.1 417.0 491.1 417.9 489.3 418.5C487.6 419.1 485.8 419.4 484.1 419.8C482.3 420.2 480.6 420.7 478.8 420.9C477.1 421.0 475.2 421.0 473.6 420.7C472.0 420.4 470.5 419.5 469.2 418.9C467.9 418.4 466.8 417.5 465.7 417.2C464.7 416.9 464.0 417.3 462.8 417.2C461.6 417.1 459.7 416.9 458.4 416.3C457.1 415.7 456.0 414.6 454.9 413.7C453.9 412.8 453.1 411.9 452.3 411.1C451.5 410.3 450.3 409.7 450.1 408.7Z"/>
<path class="c" stroke="#e8127c" d="M457.6 407.4C456.9 406.1 456.4 404.5 456.3 403.1C456.1 401.6 456.2 400.1 456.7 398.7C457.2 397.3 458.1 395.9 459.3 394.8C460.5 393.6 462.4 392.8 463.7 391.7C465.0 390.6 466.0 389.3 467.2 388.2C468.3 387.1 469.3 385.9 470.7 385.2C472.0 384.4 473.9 384.0 475.0 383.9C476.1 383.7 475.9 384.3 477.1 384.3C478.3 384.3 480.6 384.1 482.3 383.9C484.1 383.6 486.0 382.7 487.6 382.5C489.2 382.4 490.6 382.6 491.9 383.0C493.2 383.3 494.5 383.9 495.4 384.7C496.4 385.6 497.0 386.9 497.6 388.2C498.2 389.5 498.5 391.1 498.9 392.6C499.3 394.0 499.8 395.5 499.8 396.9C499.8 398.4 499.3 399.9 498.9 401.3C498.5 402.8 498.3 404.3 497.6 405.7C496.9 407.1 495.8 408.4 494.5 409.6C493.3 410.8 491.5 411.8 490.2 412.7C488.9 413.5 487.9 413.9 486.7 414.8C485.5 415.8 484.2 417.3 483.2 418.5C482.2 419.7 481.6 420.9 480.6 422.0C479.6 423.1 478.3 424.2 477.1 425.1C475.9 425.9 474.8 426.9 473.6 427.2C472.4 427.6 471.3 427.6 470.1 427.2C468.9 426.9 467.5 426.0 466.6 425.1C465.7 424.1 465.2 422.6 464.9 421.6C464.5 420.5 464.9 420.0 464.5 418.9C464.2 417.9 463.5 416.8 462.8 415.5C462.1 414.1 461.1 412.4 460.2 411.1C459.3 409.8 458.2 408.8 457.6 407.4Z"/>
<path class="c" stroke="#3fd4ea" d="M436.6 407.4C436.9 406.2 437.5 404.5 438.4 403.1C439.2 401.6 440.5 400.1 441.9 398.7C443.2 397.2 444.8 395.7 446.2 394.3C447.7 392.9 449.0 391.7 450.6 390.4C452.2 389.1 454.1 387.6 455.8 386.5C457.6 385.3 459.5 384.1 461.1 383.4C462.7 382.7 464.1 382.3 465.4 382.3C466.7 382.3 467.9 382.7 468.9 383.4C469.9 384.1 470.7 385.5 471.5 386.5C472.4 387.5 473.5 388.9 474.1 389.5C474.8 390.1 474.4 389.3 475.3 390.0C476.3 390.6 478.0 392.2 479.7 393.5C481.4 394.7 484.1 396.3 485.6 397.7C487.1 399.1 487.6 400.4 488.5 401.8C489.4 403.2 490.4 404.8 491.2 406.2C491.9 407.6 492.6 409.1 493.0 410.5C493.4 411.9 493.7 413.1 493.4 414.6C493.1 416.1 492.0 418.1 491.1 419.4C490.1 420.7 488.9 421.6 487.6 422.4C486.3 423.2 484.7 423.7 483.2 424.2C481.7 424.7 480.3 425.2 478.8 425.5C477.4 425.8 476.1 426.1 474.5 425.9C472.9 425.7 471.0 424.8 469.2 424.2C467.5 423.5 465.7 422.6 464.0 422.0C462.3 421.4 461.1 421.1 459.3 420.9C457.5 420.6 455.2 420.9 453.2 420.7C451.2 420.5 449.0 420.3 447.1 419.8C445.2 419.3 443.3 418.5 441.9 417.6C440.4 416.8 439.2 415.8 438.4 414.6C437.5 413.3 436.9 411.4 436.6 410.2C436.3 409.0 436.3 408.6 436.6 407.4Z"/>
</g>
<path class="f" d="M74.50 4.00H545.50M74.50 117.25H545.50M192.40 230.45H545.50M310.05 343.50H545.50M427.85 456.70H545.50M74.50 4.00V117.25M192.40 4.00V230.45M310.05 4.00V343.50M427.85 4.00V456.70M545.50 4.00V456.70"/>
<g class="t">
<path d="M84.67 117.25 v6.8M74.50 107.85 h-6.8M107.61 117.25 v6.8M74.50 85.75 h-6.8M130.55 117.25 v6.8M74.50 63.65 h-6.8M153.49 117.25 v6.8M74.50 41.55 h-6.8M176.43 117.25 v6.8M74.50 19.45 h-6.8M202.45 230.45 v6.8M192.40 221.05 h-6.8M225.39 230.45 v6.8M192.40 198.95 h-6.8M248.33 230.45 v6.8M192.40 176.85 h-6.8M271.27 230.45 v6.8M192.40 154.75 h-6.8M294.21 230.45 v6.8M192.40 132.65 h-6.8M320.23 343.50 v6.8M310.05 333.90 h-6.8M343.17 343.50 v6.8M310.05 311.80 h-6.8M366.11 343.50 v6.8M310.05 289.70 h-6.8M389.05 343.50 v6.8M310.05 267.60 h-6.8M411.99 343.50 v6.8M310.05 245.50 h-6.8M438.01 456.70 v6.8M427.85 447.10 h-6.8M460.95 456.70 v6.8M427.85 425.00 h-6.8M483.89 456.70 v6.8M427.85 402.90 h-6.8M506.83 456.70 v6.8M427.85 380.80 h-6.8M529.77 456.70 v6.8M427.85 358.70 h-6.8"/>
</g>
<g class="a">
<text x="85.1" y="140.4">−4</text>
<text x="108.0" y="140.4">−2</text>
<text x="131.0" y="140.4">0</text>
<text x="153.9" y="140.4">2</text>
<text x="176.8" y="140.4">4</text>
<text transform="translate(58.1 107.8) rotate(-90)">−4</text>
<text transform="translate(58.1 85.8) rotate(-90)">−2</text>
<text transform="translate(58.1 63.6) rotate(-90)">0</text>
<text transform="translate(58.1 41.5) rotate(-90)">2</text>
<text transform="translate(58.1 19.4) rotate(-90)">4</text>
<text x="202.9" y="253.6">−4</text>
<text x="225.8" y="253.6">−2</text>
<text x="248.7" y="253.6">0</text>
<text x="271.7" y="253.6">2</text>
<text x="294.6" y="253.6">4</text>
<text transform="translate(176.0 221.1) rotate(-90)">−4</text>
<text transform="translate(176.0 198.9) rotate(-90)">−2</text>
<text transform="translate(176.0 176.8) rotate(-90)">0</text>
<text transform="translate(176.0 154.8) rotate(-90)">2</text>
<text transform="translate(176.0 132.6) rotate(-90)">4</text>
<text x="320.6" y="366.7">−4</text>
<text x="343.6" y="366.7">−2</text>
<text x="366.5" y="366.7">0</text>
<text x="389.4" y="366.7">2</text>
<text x="412.4" y="366.7">4</text>
<text transform="translate(293.7 333.9) rotate(-90)">−4</text>
<text transform="translate(293.7 311.8) rotate(-90)">−2</text>
<text transform="translate(293.7 289.7) rotate(-90)">0</text>
<text transform="translate(293.7 267.6) rotate(-90)">2</text>
<text transform="translate(293.7 245.5) rotate(-90)">4</text>
<text x="438.4" y="479.9">−4</text>
<text x="461.4" y="479.9">−2</text>
<text x="484.3" y="479.9">0</text>
<text x="507.2" y="479.9">2</text>
<text x="530.2" y="479.9">4</text>
<text transform="translate(411.5 447.1) rotate(-90)">−4</text>
<text transform="translate(411.5 425.0) rotate(-90)">−2</text>
<text transform="translate(411.5 402.9) rotate(-90)">0</text>
<text transform="translate(411.5 380.8) rotate(-90)">2</text>
<text transform="translate(411.5 358.7) rotate(-90)">4</text>
</g>
<g class="l">
<text x="2.40" y="64.90">PC1</text>
<text x="120.30" y="178.60">PC2</text>
<text x="238.00" y="291.80">PC3</text>
<text x="355.60" y="405.00">PC4</text>
<text x="473.10" y="517.80">PC5</text>
</g>
<g class="g">
<text transform="translate(116.8 313.5) scale(1 .9)" fill="#1010e6" stroke="#1010e6">Native</text>
<text transform="translate(116.8 330.6) scale(1 .9)" fill="#f5a623" stroke="#f5a623">South America</text>
<text transform="translate(116.8 347.8) scale(1 .9)" fill="#10ee10" stroke="#10ee10">Eurasia</text>
<text transform="translate(116.8 364.9) scale(1 .9)" fill="#e8127c" stroke="#e8127c">Africa</text>
<text transform="translate(116.8 382.1) scale(1 .9)" fill="#3fd4ea" stroke="#3fd4ea">Oceania</text>
</g>
</svg>
</body></html>
